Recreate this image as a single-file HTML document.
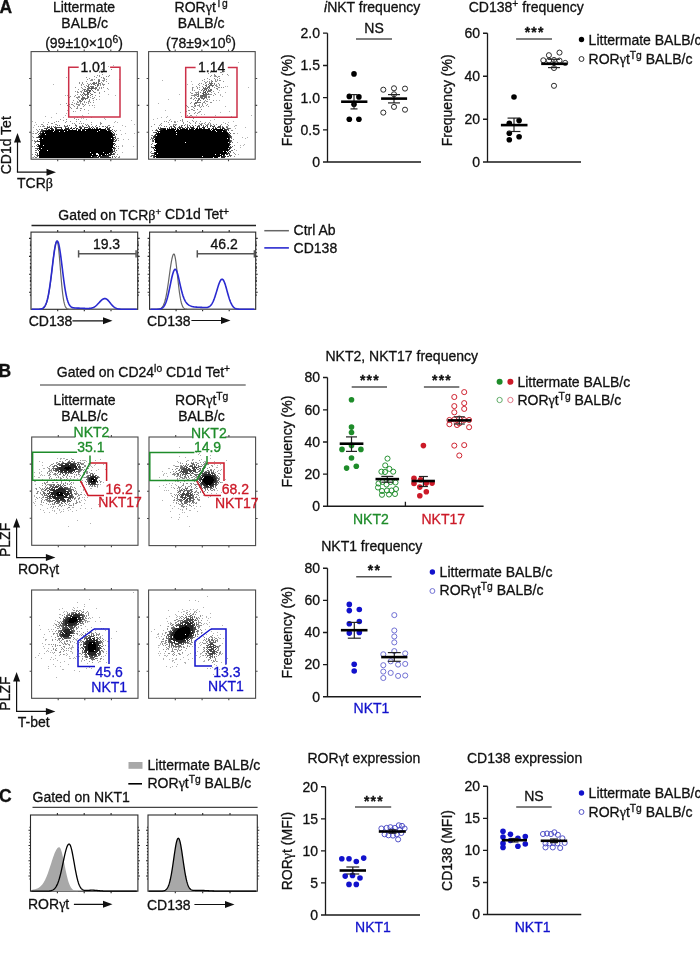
<!DOCTYPE html>
<html><head><meta charset="utf-8"><title>Figure</title>
<style>
html,body{margin:0;padding:0;background:#fff;}
body{width:700px;height:971px;overflow:hidden;}
svg{display:block;font-family:"Liberation Sans",Arial,"DejaVu Sans",sans-serif;font-size:14px;}
text{stroke-width:0.3px;}
.g{font-family:"Liberation Serif",serif;}
</style></head><body>
<svg width="700" height="971" viewBox="0 0 700 971">
<rect width="700" height="971" fill="#fff"/>
<text x="-0.5" y="12.5" fill="#111" stroke="#111" font-size="17.5" font-weight="bold">A</text>
<text x="84" y="12.2" text-anchor="middle" fill="#111" stroke="#111">Littermate</text>
<text x="84.7" y="27.5" text-anchor="middle" fill="#111" stroke="#111">BALB/c</text>
<text x="84" y="48" text-anchor="middle" fill="#111" stroke="#111">(99±10×10<tspan dy="-4.6" font-size="10.3">6</tspan><tspan dy="4.6">)</tspan></text>
<text x="201.2" y="12" text-anchor="middle" fill="#111" stroke="#111">ROR<tspan class="g">γ</tspan>t<tspan dy="-4.6" font-size="10.3">Tg</tspan></text>
<text x="201.2" y="27.5" text-anchor="middle" fill="#111" stroke="#111">BALB/c</text>
<text x="201" y="48" text-anchor="middle" fill="#111" stroke="#111">(78±9×10<tspan dy="-4.6" font-size="10.3">6</tspan><tspan dy="4.6">)</tspan></text>
<g stroke="#000" stroke-width="1" fill="none" transform="translate(0 .5)"><path d="M113 65h1M66 77h1M53 84h1M65 95h1M115 95h1M99 99h1M88 102h1M60 104h1M94 105h1M94 107h1M67 110h1M75 111h1M56 113h1M65 115h1M45 116h1M83 116h1M51 117h1M63 117h1M77 117h1M91 117h1M81 118h1M83 118h1M104 118h1M86 119h1M105 119h1M131 120h1M32 121h1M115 121h1M35 122h1M43 122h1M114 122h1M117 122h1M36 124h1M134 124h1M34 125h1M122 125h1M125 126h1M33 127h1M120 130h1M33 131h1M32 133h1M125 133h1M134 133h1M121 134h1M32 136h1M123 139h1M128 139h1M122 145h1M122 146h1M133 146h1M122 152h1M32 157h1" stroke-opacity="0.3"/><path d="M74 118h1M60 119h1M66 119h1M76 119h1M78 119h1M63 120h1M56 121h1M58 121h1M66 121h1M70 121h1M76 121h1M80 121h1M48 122h1M54 122h1M65 122h1M91 122h1M100 122h1M51 123h2M72 123h1M74 123h1M79 123h1M81 123h1M83 123h1M100 123h2M41 124h2M47 124h1M55 124h2M75 124h1M85 124h1M87 124h1M91 124h1M100 124h1M43 125h1M108 125h2M38 126h1M40 126h1M42 126h3M113 126h1M36 129h1M37 130h1M116 130h1M33 133h1M35 133h2M33 137h1M117 138h2M32 140h1M34 140h1M118 140h1M34 141h1M34 143h1M32 146h1M34 146h1M118 146h1M118 148h1M32 154h1M117 154h1M34 156h1M116 156h1M119 156h1M33 157h1M118 157h2" stroke-opacity="0.44"/><path d="M57 125h1M59 125h1M64 125h1M67 125h1M69 125h1M75 125h2M82 125h1M86 125h1M88 125h1M96 125h1M47 126h1M49 126h1M51 126h1M53 126h1M55 126h1M64 126h4M76 126h1M79 126h2M82 126h2M88 126h2M92 126h1M95 126h1M99 126h1M102 126h2M105 126h1M107 126h1M109 127h2M39 129h1M41 129h2M112 129h1M114 130h1M38 131h1M115 131h1M37 132h1M116 134h1M115 136h1M36 137h1M116 139h1M116 140h1M35 141h2M35 142h1M36 145h1M116 146h1M35 148h2M35 150h2M116 150h1M35 152h2M115 152h1M114 153h1M35 154h1M114 154h1M36 155h1M114 156h1M35 157h2M115 157h1" stroke-opacity="0.58"/><path d="M47 127h3M51 127h1M54 127h8M65 127h1M68 127h1M71 127h1M75 127h1M79 127h3M84 127h4M89 127h1M91 127h1M93 127h1M96 127h2M106 127h2M44 128h4M107 128h3M41 130h2M111 130h1M40 131h2M112 131h1M40 132h1M113 132h1M39 133h1M114 133h1M38 134h1M114 134h1M114 135h1M38 136h1M37 137h2M114 137h2M115 138h1M114 139h1M37 140h1M115 140h1M37 141h1M114 141h2M37 144h1M115 144h1M37 146h1M114 147h1M37 148h1M114 148h2M37 149h1M114 149h1M114 150h1M113 151h2M37 153h1M113 153h1M37 154h1M112 154h2M37 155h1M37 156h1M112 156h1M112 157h1" stroke-opacity="0.72"/><path d="M50 128h3M55 128h2M61 128h1M65 128h4M70 128h2M73 128h2M76 128h2M80 128h2M84 128h1M88 128h3M92 128h1M94 128h1M96 128h2M99 128h2M105 128h1M46 129h1M48 129h2M51 129h3M55 129h8M64 129h6M72 129h1M76 129h1M78 129h3M82 129h3M105 129h1M107 129h3M43 130h4M108 130h3M42 131h3M110 131h1M42 132h1M111 132h1M40 133h2M112 133h1M40 134h2M112 134h2M39 135h2M112 135h2M39 136h1M39 137h1M113 137h1M113 138h1M39 139h1M113 139h1M113 140h1M38 141h2M113 141h1M113 143h2M38 144h1M113 144h1M38 145h1M114 145h1M38 146h1M113 147h1M38 148h1M113 148h1M112 149h1M38 150h1M112 150h1M111 151h2M110 152h3M110 153h2M108 154h4M38 155h1M106 155h5M94 156h3M98 156h11M93 157h6M100 157h11" stroke-opacity="0.86"/><path d="M85 129h20M47 130h7M55 130h12M68 130h9M78 130h3M82 130h3M86 130h13M100 130h7M45 131h8M54 131h5M60 131h4M65 131h32M98 131h12M43 132h1M45 132h66M42 133h70M42 134h3M46 134h66M41 135h71M40 136h73M40 137h73M40 138h2M43 138h68M112 138h1M40 139h73M40 140h73M40 141h73M40 142h73M40 143h73M40 144h73M39 145h4M44 145h69M39 146h74M39 147h74M39 148h2M42 148h70M39 149h73M40 150h7M48 150h64M39 151h72M39 152h51M91 152h12M104 152h6M39 153h57M98 153h11M39 154h53M93 154h3M99 154h6M106 154h1M39 155h59M99 155h2M102 155h4M39 156h52M92 156h2M39 157h54" stroke-opacity="1.0"/></g>
<g stroke="#000" stroke-width="1" fill="none" transform="translate(0 .5)"><path d="M99 65h1M99 66h1M108 66h1M116 67h1M119 79h1M108 89h1M108 94h1M67 95h1M88 110h1M66 113h1M88 113h1M82 115h1" stroke-opacity="0.3"/><path d="M102 69h1M111 69h1M99 71h1M105 71h1M99 72h1M101 72h2M102 74h1M97 75h1M99 75h1M109 75h1M94 76h1M99 76h1M106 76h1M108 76h1M86 77h1M96 77h1M101 77h1M103 77h1M89 78h1M103 78h2M87 79h1M91 79h2M94 79h1M98 79h2M104 79h1M106 79h1M90 80h3M102 80h3M86 81h1M103 81h1M106 81h1M79 82h1M82 82h1M101 82h1M79 83h1M82 83h1M87 83h1M90 83h1M100 83h1M102 83h1M108 83h1M81 84h1M83 84h1M88 84h2M100 84h1M102 84h3M81 85h1M86 85h1M100 85h1M103 85h1M84 86h1M75 87h1M81 87h1M85 87h1M99 87h1M101 87h1M103 87h1M82 88h1M99 88h1M101 88h1M107 88h1M78 89h1M83 89h1M97 89h2M82 90h1M97 90h2M75 91h1M77 91h1M80 91h2M104 91h1M77 92h2M81 92h1M95 92h1M99 92h1M99 93h1M77 94h1M80 94h1M75 95h1M95 95h1M70 96h1M74 96h1M78 96h2M92 96h1M99 96h1M69 97h1M76 97h4M90 97h1M94 97h1M77 98h1M92 98h2M78 99h1M89 99h1M96 99h1M73 100h1M89 100h1M93 100h1M68 101h1M77 101h1M79 101h1M84 101h1M88 101h2M72 102h1M77 102h2M80 102h1M84 102h1M86 102h1M90 102h1M93 102h1M66 103h1M74 103h1M76 103h1M80 103h1M82 103h1M88 103h1M69 104h1M71 104h2M76 104h4M82 104h2M85 104h1M67 105h1M73 105h1M78 105h2M84 105h1M89 105h1M92 105h1M69 106h1M74 106h1M77 106h1M83 106h1M70 107h1M77 107h1M71 108h1M76 108h2M80 108h2M84 109h1M80 110h1M73 111h1" stroke-opacity="0.44"/><path d="M98 80h2M98 81h2M93 82h2M96 82h1M98 82h1M92 83h5M98 83h2M91 84h1M93 84h2M97 84h2M88 85h1M95 85h1M97 85h2M87 86h2M90 86h4M97 86h1M88 87h2M91 87h3M95 87h2M87 88h4M93 88h4M84 89h2M87 89h2M95 89h1M84 90h1M86 90h3M92 90h1M84 91h4M90 91h1M93 91h1M83 92h1M89 92h1M94 92h1M83 93h2M88 93h1M90 93h1M82 94h1M84 94h5M91 94h2M81 95h1M83 95h1M85 95h1M87 95h1M90 95h1M82 96h1M87 96h2M82 97h3M87 97h2M81 98h7M81 99h3M85 99h1M79 100h2M82 100h1M80 101h2" stroke-opacity="0.58"/><path d="M91 88h2M91 89h1M89 90h2M89 91h1M87 92h2M87 93h1" stroke-opacity="0.72"/></g>
<g stroke="#000" stroke-width="1" fill="none" transform="translate(0 .5)"><path d="M214 70h1M162 80h1M191 81h1M193 87h1M248 87h1M219 90h1M225 92h1M220 94h1M168 99h1M219 100h1M158 103h1M194 105h1M225 106h1M165 110h1M199 111h1M229 111h1M180 112h1M199 112h1M220 112h1M204 114h1M196 115h1M215 115h1M251 115h1M167 116h1M181 116h1M185 116h1M192 116h1M231 116h1M161 117h1M166 117h1M187 117h1M157 118h1M153 119h1M170 119h1M214 119h1M210 120h1M233 121h1M223 122h1M228 122h1M235 125h2M234 126h1M245 127h1M235 128h1M237 133h1M242 137h1M247 137h1M245 138h1M237 142h1M244 144h1M240 145h1M243 145h1M240 147h1M236 150h1M238 154h1" stroke-opacity="0.3"/><path d="M193 118h1M182 119h1M169 120h1M180 120h1M182 120h1M192 120h1M164 121h1M166 121h1M171 121h1M174 121h1M182 121h1M187 121h1M193 121h1M196 121h1M200 121h1M168 122h1M174 122h2M183 122h1M189 122h1M195 122h1M205 122h1M209 122h1M161 123h1M183 123h1M190 123h1M195 123h1M199 123h1M201 123h2M204 123h1M208 123h1M210 123h1M225 123h1M154 124h1M160 124h1M169 124h1M173 124h4M185 124h1M187 124h1M205 124h1M207 124h2M210 124h1M213 124h1M216 124h1M221 124h1M227 124h1M159 125h1M161 125h1M228 125h1M151 126h1M226 126h2M230 128h1M152 130h1M231 130h2M233 133h2M151 135h1M150 139h1M233 139h1M234 145h1M234 149h1M150 152h1M233 152h1M234 153h1M235 154h1M150 156h1M234 156h1" stroke-opacity="0.44"/><path d="M200 124h2M173 125h1M175 125h1M181 125h2M184 125h1M187 125h1M189 125h1M192 125h1M195 125h1M198 125h2M201 125h1M203 125h1M206 125h2M210 125h2M214 125h1M220 125h1M164 126h1M166 126h1M170 126h2M222 126h1M158 127h1M160 127h1M226 127h2M227 128h3M156 129h1M228 129h1M155 130h1M153 132h2M152 135h1M231 136h1M151 137h1M231 137h1M151 138h2M231 138h1M152 139h1M152 140h1M231 140h1M152 141h1M231 141h1M232 142h1M152 143h1M151 144h1M151 146h1M232 146h1M151 147h1M231 150h2M151 151h1M230 152h1M151 153h1M151 155h1M230 155h2M151 156h1M230 156h1" stroke-opacity="0.58"/><path d="M173 126h2M179 126h1M181 126h1M187 126h1M190 126h1M193 126h1M197 126h3M203 126h1M205 126h1M207 126h1M210 126h1M212 126h3M218 126h3M169 127h1M171 127h1M174 127h2M178 127h5M185 127h1M187 127h2M190 127h1M207 127h1M213 127h1M215 127h1M217 127h4M222 127h2M158 128h1M160 128h1M224 128h1M226 129h2M156 130h2M228 130h1M155 132h1M229 132h1M230 133h1M154 135h1M230 135h1M153 136h1M230 136h1M153 137h1M230 137h1M153 138h1M153 140h1M230 140h1M153 141h1M230 141h1M230 142h1M230 144h1M230 146h1M152 147h2M230 147h2M153 148h1M230 148h1M229 151h2M152 153h2M228 153h2M229 154h1M152 155h2M229 155h1M153 156h1M227 156h2M153 157h1" stroke-opacity="0.72"/><path d="M191 127h3M197 127h1M199 127h1M202 127h3M161 128h5M167 128h1M169 128h1M171 128h3M175 128h1M177 128h1M179 128h2M182 128h3M186 128h2M189 128h1M191 128h4M200 128h2M203 128h2M208 128h2M212 128h2M215 128h2M220 128h1M222 128h2M159 129h4M224 129h2M160 130h1M225 130h2M157 131h2M226 131h1M156 132h1M227 132h1M156 133h1M228 133h1M155 134h2M228 134h2M155 135h1M228 135h2M154 136h2M229 136h1M154 137h2M229 137h1M229 138h1M154 139h1M229 139h1M229 140h1M229 141h1M229 142h1M229 143h1M229 144h1M154 145h1M229 145h1M154 147h1M229 147h1M229 148h1M154 149h1M228 149h2M154 150h1M228 150h1M227 151h1M154 152h1M228 152h1M154 153h1M226 153h2M154 154h1M226 154h2M154 155h1M224 155h1M154 156h1M222 156h4M154 157h1M221 157h4" stroke-opacity="0.86"/><path d="M196 128h2M199 128h1M163 129h3M167 129h9M177 129h2M180 129h8M189 129h5M195 129h15M211 129h1M213 129h10M161 130h14M176 130h35M212 130h3M216 130h9M159 131h57M217 131h5M223 131h3M158 132h1M160 132h16M177 132h50M157 133h71M157 134h19M177 134h51M157 135h71M156 136h73M156 137h73M155 138h72M228 138h1M155 139h74M155 140h74M155 141h74M155 142h30M186 142h42M157 143h72M156 144h73M155 145h74M155 146h74M155 147h74M155 148h73M156 149h72M155 150h73M156 151h67M224 151h2M155 152h72M155 153h2M158 153h68M155 154h60M216 154h4M221 154h4M156 155h66M223 155h1M155 156h47M203 156h17M221 156h1M156 157h57M214 157h4" stroke-opacity="1.0"/></g>
<g stroke="#000" stroke-width="1" fill="none" transform="translate(0 .5)"><path d="M238 62h1M213 66h1M228 75h1M187 84h1M192 84h1M225 86h1M227 86h1M179 94h1M220 95h1M222 96h1M216 100h1M201 114h1M175 121h1M177 121h1" stroke-opacity="0.3"/><path d="M211 70h1M216 70h1M224 71h1M210 72h1M220 72h2M208 73h1M214 74h1M222 74h1M227 74h1M211 75h1M214 75h2M210 76h1M214 76h3M218 76h2M217 77h1M207 78h1M214 78h1M219 78h1M204 79h1M209 79h1M215 79h1M217 79h1M202 80h1M211 80h1M215 80h1M217 80h1M219 80h2M204 81h1M207 81h1M209 81h1M211 81h1M215 81h2M223 81h1M205 82h2M209 82h1M199 83h1M201 83h1M205 83h1M218 83h1M198 84h1M203 84h1M206 84h1M214 84h1M216 84h1M219 84h1M199 85h1M215 85h2M219 85h1M196 86h1M202 86h1M216 86h2M192 87h1M197 87h1M199 87h1M214 87h1M218 87h2M221 87h1M223 87h1M192 88h1M197 88h1M216 88h2M192 89h1M199 89h1M217 89h1M192 90h1M194 90h1M198 91h1M213 91h1M190 92h1M195 92h4M211 92h1M218 92h1M191 93h2M196 93h1M214 93h1M194 94h3M209 94h3M215 94h1M191 95h6M213 95h1M194 96h1M208 96h2M191 97h1M195 97h1M208 97h2M190 98h2M194 98h1M206 98h1M193 99h1M207 99h1M209 99h1M205 100h1M213 100h1M204 101h1M206 101h2M191 102h1M203 102h2M210 102h2M190 103h1M202 103h1M205 103h1M199 104h1M202 104h1M207 104h1M186 105h1M197 105h3M202 105h1M206 105h1M187 106h1M191 106h2M194 106h2M199 106h1M201 106h1M203 106h1M208 106h1M188 107h1M193 107h1M200 107h1M194 108h1M191 109h2M197 109h1M201 109h1M188 110h2M193 110h2M186 111h1M200 111h1M195 112h1M198 112h1M189 113h1M194 113h1M197 113h1M187 115h1M190 115h2M189 116h1M190 117h1" stroke-opacity="0.44"/><path d="M212 81h1M211 82h1M209 83h4M214 83h1M208 84h1M210 84h2M205 85h2M209 85h5M206 86h1M208 86h2M212 86h1M203 87h1M205 87h1M207 87h3M203 88h5M209 88h1M202 89h1M204 89h3M208 89h1M210 89h2M201 90h1M203 90h2M208 90h4M203 91h1M207 91h4M200 92h1M203 92h1M207 92h1M198 93h1M202 93h1M205 93h2M208 93h1M197 94h2M204 94h5M198 95h1M200 95h2M203 95h4M197 96h2M200 96h7M200 97h3M204 97h3M196 98h1M198 98h2M201 98h4M198 99h2M203 99h1M195 100h1M197 100h2M200 100h1M197 101h1M195 102h6M194 103h3M194 104h1M195 105h1" stroke-opacity="0.58"/><path d="M206 90h1M205 91h1M204 92h2M203 93h1M203 94h1M202 95h1" stroke-opacity="0.72"/></g>
<rect x="31.1" y="51.6" width="106.20" height="107.60" fill="none" stroke="#4a4a4a" stroke-width="1.1"/>
<path d="M57.7 51.6v-2.0M57.7 159.2v2.0M84.2 51.6v-2.0M84.2 159.2v2.0M110.8 51.6v-2.0M110.8 159.2v2.0M31.1 78.5h-2.0M137.3 78.5h2.0M31.1 105.4h-2.0M137.3 105.4h2.0M31.1 132.3h-2.0M137.3 132.3h2.0" stroke="#4a4a4a" stroke-width="1.1" fill="none"/>
<rect x="148.6" y="51.6" width="106.60" height="107.60" fill="none" stroke="#4a4a4a" stroke-width="1.1"/>
<path d="M175.2 51.6v-2.0M175.2 159.2v2.0M201.9 51.6v-2.0M201.9 159.2v2.0M228.5 51.6v-2.0M228.5 159.2v2.0M148.6 78.5h-2.0M255.2 78.5h2.0M148.6 105.4h-2.0M255.2 105.4h2.0M148.6 132.3h-2.0M255.2 132.3h2.0" stroke="#4a4a4a" stroke-width="1.1" fill="none"/>
<path d="M78.7 67.3 L68.7 67.3 L68.7 117.1 L120.0 117.1 L120.0 67.3 L110.1 67.3" stroke="#cc3048" stroke-width="1.5" fill="none"/>
<text x="94" y="71.9" text-anchor="middle" fill="#111" stroke="#111">1.01</text>
<path d="M195.6 67.4 L185.7 67.4 L185.7 117.2 L237.0 117.2 L237.0 67.4 L227.8 67.4" stroke="#cc3048" stroke-width="1.5" fill="none"/>
<text x="211.7" y="71.9" text-anchor="middle" fill="#111" stroke="#111">1.14</text>
<line x1="17.5" y1="172.2" x2="17.5" y2="140" stroke="#111" stroke-width="1.2"/>
<path d="M14.0 142.5L17.5 133L21.0 142.5Z" fill="#111"/>
<line x1="16.9" y1="172.2" x2="49" y2="172.2" stroke="#111" stroke-width="1.2"/>
<path d="M46.5 168.7L56 172.2L46.5 175.7Z" fill="#111"/>
<text x="10.9" y="174.3" fill="#111" stroke="#111" transform="rotate(-90 10.9 174.3)">CD1d Tet</text>
<text x="17" y="187.5" fill="#111" stroke="#111">TCR<tspan class="g">β</tspan></text>
<text x="143.7" y="220" text-anchor="middle" fill="#111" stroke="#111">Gated on TCR<tspan class="g">β</tspan><tspan dy="-5.2" font-size="9.6">+</tspan><tspan dy="4.6"> CD1d Tet</tspan><tspan dy="-4.6" font-size="10.3">+</tspan></text>
<line x1="31.5" y1="225.5" x2="256" y2="225.5" stroke="#222" stroke-width="1.3"/>
<rect x="31" y="232.1" width="106.70" height="77.20" fill="none" stroke="#2a2a2a" stroke-width="1.1"/>
<path d="M57.7 232.1v-2.0M57.7 309.3v2.0M84.3 232.1v-2.0M84.3 309.3v2.0M111.0 232.1v-2.0M111.0 309.3v2.0M31 238.4h-2.0M137.7 238.4h2.0M31 256.4h-2.0M137.7 256.4h2.0M31 274.3h-2.0M137.7 274.3h2.0M31 292.2h-2.0M137.7 292.2h2.0M31 295.1h-1.1M137.7 295.1h1.1M31 280.9h-1.1M137.7 280.9h1.1M31 266.8h-1.1M137.7 266.8h1.1M31 252.6h-1.1M137.7 252.6h1.1M31 242.0h-1.1M137.7 242.0h1.1M31 245.6h-1.1M137.7 245.6h1.1M31 249.2h-1.1M137.7 249.2h1.1M31 252.8h-1.1M137.7 252.8h1.1M31 260.0h-1.1M137.7 260.0h1.1M31 263.6h-1.1M137.7 263.6h1.1M31 267.1h-1.1M137.7 267.1h1.1M31 270.7h-1.1M137.7 270.7h1.1M31 277.9h-1.1M137.7 277.9h1.1M31 281.5h-1.1M137.7 281.5h1.1M31 285.0h-1.1M137.7 285.0h1.1M31 288.6h-1.1M137.7 288.6h1.1M31 280.2h-1.1M137.7 280.2h1.1M31 268.2h-1.1M137.7 268.2h1.1M31 256.1h-1.1M137.7 256.1h1.1M31 244.1h-1.1M137.7 244.1h1.1" stroke="#2a2a2a" stroke-width="1.1" fill="none"/>
<rect x="149.6" y="232.1" width="106.10" height="77.20" fill="none" stroke="#2a2a2a" stroke-width="1.1"/>
<path d="M176.1 232.1v-2.0M176.1 309.3v2.0M202.6 232.1v-2.0M202.6 309.3v2.0M229.2 232.1v-2.0M229.2 309.3v2.0M149.6 238.4h-2.0M255.7 238.4h2.0M149.6 256.4h-2.0M255.7 256.4h2.0M149.6 274.3h-2.0M255.7 274.3h2.0M149.6 292.2h-2.0M255.7 292.2h2.0M149.6 295.1h-1.1M255.7 295.1h1.1M149.6 280.9h-1.1M255.7 280.9h1.1M149.6 266.8h-1.1M255.7 266.8h1.1M149.6 252.6h-1.1M255.7 252.6h1.1M149.6 242.0h-1.1M255.7 242.0h1.1M149.6 245.6h-1.1M255.7 245.6h1.1M149.6 249.2h-1.1M255.7 249.2h1.1M149.6 252.8h-1.1M255.7 252.8h1.1M149.6 260.0h-1.1M255.7 260.0h1.1M149.6 263.6h-1.1M255.7 263.6h1.1M149.6 267.1h-1.1M255.7 267.1h1.1M149.6 270.7h-1.1M255.7 270.7h1.1M149.6 277.9h-1.1M255.7 277.9h1.1M149.6 281.5h-1.1M255.7 281.5h1.1M149.6 285.0h-1.1M255.7 285.0h1.1M149.6 288.6h-1.1M255.7 288.6h1.1M149.6 280.2h-1.1M255.7 280.2h1.1M149.6 268.2h-1.1M255.7 268.2h1.1M149.6 256.1h-1.1M255.7 256.1h1.1M149.6 244.1h-1.1M255.7 244.1h1.1" stroke="#2a2a2a" stroke-width="1.1" fill="none"/>
<path d="M31.8 309.30 L32.3 309.30 L32.8 309.30 L33.3 309.30 L33.8 309.30 L34.3 309.30 L34.8 309.30 L35.3 309.30 L35.8 309.30 L36.3 309.29 L36.8 309.29 L37.3 309.28 L37.8 309.28 L38.3 309.27 L38.8 309.25 L39.3 309.22 L39.8 309.19 L40.3 309.14 L40.8 309.07 L41.3 308.98 L41.8 308.85 L42.3 308.67 L42.8 308.44 L43.3 308.14 L43.8 307.75 L44.3 307.24 L44.8 306.60 L45.3 305.80 L45.8 304.82 L46.3 303.61 L46.8 302.17 L47.3 300.45 L47.8 298.43 L48.3 296.10 L48.8 293.45 L49.3 290.46 L49.8 287.16 L50.3 283.55 L50.8 279.69 L51.3 275.60 L51.8 271.37 L52.3 267.07 L52.8 262.79 L53.3 258.63 L53.8 254.69 L54.3 251.08 L54.8 247.90 L55.3 245.25 L55.8 243.20 L56.3 241.82 L56.8 241.16 L57.3 241.38 L57.8 243.07 L58.3 246.19 L58.8 250.53 L59.3 255.81 L59.8 261.72 L60.3 267.93 L60.8 274.16 L61.3 280.12 L61.8 285.62 L62.3 290.52 L62.8 294.75 L63.3 298.28 L63.8 301.14 L64.3 303.40 L64.8 305.13 L65.3 306.42 L65.8 307.35 L66.3 308.01 L66.8 308.47 L67.3 308.78 L67.8 308.98 L68.3 309.11 L68.8 309.19 L69.3 309.23 L69.8 309.26 L70.3 309.28 L70.8 309.29 L71.3 309.29 L71.8 309.30 L72.3 309.30 L72.8 309.30 L73.3 309.30 L73.8 309.30 L74.3 309.30 L74.8 309.30 L75.3 309.30 L75.8 309.30 L76.3 309.30 L76.8 309.30 L77.3 309.30 L77.8 309.30 L78.3 309.30 L78.8 309.30 L79.3 309.30 L79.8 309.30 L80.3 309.30 L80.8 309.30 L81.3 309.30 L81.8 309.30 L82.3 309.30 L82.8 309.30 L83.3 309.30 L83.8 309.30 L84.3 309.30 L84.8 309.30 L85.3 309.30 L85.8 309.30 L86.3 309.30 L86.8 309.30 L87.3 309.30 L87.8 309.30 L88.3 309.30 L88.8 309.30 L89.3 309.30 L89.8 309.30 L90.3 309.30 L90.8 309.30 L91.3 309.30 L91.8 309.30 L92.3 309.30 L92.8 309.30 L93.3 309.30 L93.8 309.30 L94.3 309.30 L94.8 309.30 L95.3 309.30 L95.8 309.30 L96.3 309.30 L96.8 309.30 L97.3 309.30 L97.8 309.30 L98.3 309.30 L98.8 309.30 L99.3 309.30 L99.8 309.30 L100.3 309.30 L100.8 309.30 L101.3 309.30 L101.8 309.30 L102.3 309.30 L102.8 309.30 L103.3 309.30 L103.8 309.30 L104.3 309.30 L104.8 309.30 L105.3 309.30 L105.8 309.30 L106.3 309.30 L106.8 309.30 L107.3 309.30 L107.8 309.30 L108.3 309.30 L108.8 309.30 L109.3 309.30 L109.8 309.30 L110.3 309.30 L110.8 309.30 L111.3 309.30 L111.8 309.30 L112.3 309.30 L112.8 309.30 L113.3 309.30 L113.8 309.30 L114.3 309.30 L114.8 309.30 L115.3 309.30 L115.8 309.30 L116.3 309.30 L116.8 309.30 L117.3 309.30 L117.8 309.30 L118.3 309.30 L118.8 309.30 L119.3 309.30 L119.8 309.30 L120.3 309.30 L120.8 309.30 L121.3 309.30 L121.8 309.30 L122.3 309.30 L122.8 309.30 L123.3 309.30 L123.8 309.30 L124.3 309.30 L124.8 309.30 L125.3 309.30 L125.8 309.30 L126.3 309.30 L126.8 309.30 L127.3 309.30 L127.8 309.30 L128.3 309.30 L128.8 309.30 L129.3 309.30 L129.8 309.30 L130.3 309.30 L130.8 309.30 L131.3 309.30 L131.8 309.30 L132.3 309.30 L132.8 309.30 L133.3 309.30 L133.8 309.30 L134.3 309.30 L134.8 309.30 L135.3 309.30 L135.8 309.30 L136.3 309.30 L136.8 309.30" stroke="#666" stroke-width="1.2" fill="none" stroke-linejoin="round"/>
<path d="M31.8 309.30 L32.3 309.30 L32.8 309.30 L33.3 309.30 L33.8 309.30 L34.3 309.30 L34.8 309.30 L35.3 309.30 L35.8 309.29 L36.3 309.29 L36.8 309.28 L37.3 309.28 L37.8 309.26 L38.3 309.25 L38.8 309.22 L39.3 309.19 L39.8 309.14 L40.3 309.07 L40.8 308.99 L41.3 308.87 L41.8 308.71 L42.3 308.50 L42.8 308.22 L43.3 307.87 L43.8 307.42 L44.3 306.85 L44.8 306.15 L45.3 305.28 L45.8 304.23 L46.3 302.96 L46.8 301.46 L47.3 299.69 L47.8 297.65 L48.3 295.31 L48.8 292.66 L49.3 289.72 L49.8 286.48 L50.3 282.97 L50.8 279.23 L51.3 275.29 L51.8 271.22 L52.3 267.09 L52.8 262.97 L53.3 258.96 L53.8 255.14 L54.3 251.62 L54.8 248.47 L55.3 245.79 L55.8 243.65 L56.3 242.12 L56.8 241.23 L57.3 241.01 L57.8 241.47 L58.3 242.59 L58.8 244.35 L59.3 246.68 L59.8 249.53 L60.3 252.80 L60.8 256.42 L61.3 260.30 L61.8 264.32 L62.3 268.42 L62.8 272.50 L63.3 276.49 L63.8 280.31 L64.3 283.92 L64.8 287.29 L65.3 290.36 L65.8 293.14 L66.3 295.62 L66.8 297.79 L67.3 299.68 L67.8 301.29 L68.3 302.65 L68.8 303.79 L69.3 304.72 L69.8 305.48 L70.3 306.09 L70.8 306.57 L71.3 306.94 L71.8 307.23 L72.3 307.45 L72.8 307.62 L73.3 307.74 L73.8 307.84 L74.3 307.91 L74.8 307.96 L75.3 308.00 L75.8 308.04 L76.3 308.06 L76.8 308.08 L77.3 308.10 L77.8 308.12 L78.3 308.13 L78.8 308.15 L79.3 308.17 L79.8 308.19 L80.3 308.21 L80.8 308.23 L81.3 308.25 L81.8 308.27 L82.3 308.30 L82.8 308.32 L83.3 308.34 L83.8 308.37 L84.3 308.39 L84.8 308.41 L85.3 308.43 L85.8 308.45 L86.3 308.47 L86.8 308.48 L87.3 308.48 L87.8 308.48 L88.3 308.47 L88.8 308.45 L89.3 308.42 L89.8 308.38 L90.3 308.32 L90.8 308.24 L91.3 308.14 L91.8 308.01 L92.3 307.86 L92.8 307.69 L93.3 307.48 L93.8 307.23 L94.3 306.96 L94.8 306.64 L95.3 306.29 L95.8 305.91 L96.3 305.49 L96.8 305.03 L97.3 304.55 L97.8 304.04 L98.3 303.52 L98.8 302.98 L99.3 302.43 L99.8 301.89 L100.3 301.36 L100.8 300.85 L101.3 300.37 L101.8 299.93 L102.3 299.53 L102.8 299.20 L103.3 298.93 L103.8 298.72 L104.3 298.60 L104.8 298.55 L105.3 298.58 L105.8 298.71 L106.3 298.94 L106.8 299.26 L107.3 299.65 L107.8 300.11 L108.3 300.63 L108.8 301.20 L109.3 301.80 L109.8 302.42 L110.3 303.04 L110.8 303.66 L111.3 304.27 L111.8 304.85 L112.3 305.40 L112.8 305.92 L113.3 306.39 L113.8 306.82 L114.3 307.21 L114.8 307.55 L115.3 307.85 L115.8 308.11 L116.3 308.33 L116.8 308.52 L117.3 308.67 L117.8 308.80 L118.3 308.91 L118.8 309.00 L119.3 309.07 L119.8 309.12 L120.3 309.17 L120.8 309.20 L121.3 309.23 L121.8 309.24 L122.3 309.26 L122.8 309.27 L123.3 309.28 L123.8 309.29 L124.3 309.29 L124.8 309.29 L125.3 309.29 L125.8 309.30 L126.3 309.30 L126.8 309.30 L127.3 309.30 L127.8 309.30 L128.3 309.30 L128.8 309.30 L129.3 309.30 L129.8 309.30 L130.3 309.30 L130.8 309.30 L131.3 309.30 L131.8 309.30 L132.3 309.30 L132.8 309.30 L133.3 309.30 L133.8 309.30 L134.3 309.30 L134.8 309.30 L135.3 309.30 L135.8 309.30 L136.3 309.30 L136.8 309.30" stroke="#2a2ad0" stroke-width="1.6" fill="none" stroke-linejoin="round"/>
<path d="M150.4 309.30 L150.9 309.30 L151.4 309.30 L151.9 309.30 L152.4 309.30 L152.9 309.30 L153.4 309.30 L153.9 309.30 L154.4 309.29 L154.9 309.29 L155.4 309.28 L155.9 309.27 L156.4 309.26 L156.9 309.24 L157.4 309.21 L157.9 309.17 L158.4 309.11 L158.9 309.03 L159.4 308.92 L159.9 308.76 L160.4 308.55 L160.9 308.28 L161.4 307.92 L161.9 307.46 L162.4 306.87 L162.9 306.13 L163.4 305.21 L163.9 304.09 L164.4 302.75 L164.9 301.14 L165.4 299.27 L165.9 297.11 L166.4 294.66 L166.9 291.93 L167.4 288.92 L167.9 285.68 L168.4 282.24 L168.9 278.67 L169.4 275.03 L169.9 271.41 L170.4 267.90 L170.9 264.59 L171.4 261.59 L171.9 258.99 L172.4 256.86 L172.9 255.29 L173.4 254.33 L173.9 254.00 L174.4 254.53 L174.9 256.09 L175.4 258.60 L175.9 261.91 L176.4 265.85 L176.9 270.22 L177.4 274.83 L177.9 279.47 L178.4 283.98 L178.9 288.22 L179.4 292.09 L179.9 295.51 L180.4 298.47 L180.9 300.95 L181.4 302.99 L181.9 304.62 L182.4 305.89 L182.9 306.87 L183.4 307.60 L183.9 308.13 L184.4 308.51 L184.9 308.78 L185.4 308.96 L185.9 309.09 L186.4 309.17 L186.9 309.22 L187.4 309.25 L187.9 309.27 L188.4 309.28 L188.9 309.29 L189.4 309.29 L189.9 309.30 L190.4 309.30 L190.9 309.30 L191.4 309.30 L191.9 309.30 L192.4 309.30 L192.9 309.30 L193.4 309.30 L193.9 309.30 L194.4 309.30 L194.9 309.30 L195.4 309.30 L195.9 309.30 L196.4 309.30 L196.9 309.30 L197.4 309.30 L197.9 309.30 L198.4 309.30 L198.9 309.30 L199.4 309.30 L199.9 309.30 L200.4 309.30 L200.9 309.30 L201.4 309.30 L201.9 309.30 L202.4 309.30 L202.9 309.30 L203.4 309.30 L203.9 309.30 L204.4 309.30 L204.9 309.30 L205.4 309.30 L205.9 309.30 L206.4 309.30 L206.9 309.30 L207.4 309.30 L207.9 309.30 L208.4 309.30 L208.9 309.30 L209.4 309.30 L209.9 309.30 L210.4 309.30 L210.9 309.30 L211.4 309.30 L211.9 309.30 L212.4 309.30 L212.9 309.30 L213.4 309.30 L213.9 309.30 L214.4 309.30 L214.9 309.30 L215.4 309.30 L215.9 309.30 L216.4 309.30 L216.9 309.30 L217.4 309.30 L217.9 309.30 L218.4 309.30 L218.9 309.30 L219.4 309.30 L219.9 309.30 L220.4 309.30 L220.9 309.30 L221.4 309.30 L221.9 309.30 L222.4 309.30 L222.9 309.30 L223.4 309.30 L223.9 309.30 L224.4 309.30 L224.9 309.30 L225.4 309.30 L225.9 309.30 L226.4 309.30 L226.9 309.30 L227.4 309.30 L227.9 309.30 L228.4 309.30 L228.9 309.30 L229.4 309.30 L229.9 309.30 L230.4 309.30 L230.9 309.30 L231.4 309.30 L231.9 309.30 L232.4 309.30 L232.9 309.30 L233.4 309.30 L233.9 309.30 L234.4 309.30 L234.9 309.30 L235.4 309.30 L235.9 309.30 L236.4 309.30 L236.9 309.30 L237.4 309.30 L237.9 309.30 L238.4 309.30 L238.9 309.30 L239.4 309.30 L239.9 309.30 L240.4 309.30 L240.9 309.30 L241.4 309.30 L241.9 309.30 L242.4 309.30 L242.9 309.30 L243.4 309.30 L243.9 309.30 L244.4 309.30 L244.9 309.30 L245.4 309.30 L245.9 309.30 L246.4 309.30 L246.9 309.30 L247.4 309.30 L247.9 309.30 L248.4 309.30 L248.9 309.30 L249.4 309.30 L249.9 309.30 L250.4 309.30 L250.9 309.30 L251.4 309.30 L251.9 309.30 L252.4 309.30 L252.9 309.30 L253.4 309.30 L253.9 309.30 L254.4 309.30" stroke="#666" stroke-width="1.2" fill="none" stroke-linejoin="round"/>
<path d="M150.4 309.30 L150.9 309.30 L151.4 309.30 L151.9 309.30 L152.4 309.30 L152.9 309.30 L153.4 309.30 L153.9 309.30 L154.4 309.29 L154.9 309.29 L155.4 309.29 L155.9 309.28 L156.4 309.27 L156.9 309.26 L157.4 309.24 L157.9 309.22 L158.4 309.18 L158.9 309.13 L159.4 309.07 L159.9 308.98 L160.4 308.86 L160.9 308.71 L161.4 308.50 L161.9 308.25 L162.4 307.92 L162.9 307.52 L163.4 307.01 L163.9 306.40 L164.4 305.65 L164.9 304.77 L165.4 303.72 L165.9 302.51 L166.4 301.12 L166.9 299.55 L167.4 297.79 L167.9 295.86 L168.4 293.76 L168.9 291.53 L169.4 289.18 L169.9 286.76 L170.4 284.31 L170.9 281.87 L171.4 279.51 L171.9 277.28 L172.4 275.23 L172.9 273.42 L173.4 271.89 L173.9 270.69 L174.4 269.85 L174.9 269.39 L175.4 269.33 L175.9 269.70 L176.4 270.49 L176.9 271.67 L177.4 273.18 L177.9 274.96 L178.4 276.97 L178.9 279.12 L179.4 281.36 L179.9 283.63 L180.4 285.87 L180.9 288.03 L181.4 290.09 L181.9 292.02 L182.4 293.80 L182.9 295.43 L183.4 296.90 L183.9 298.22 L184.4 299.40 L184.9 300.43 L185.4 301.33 L185.9 302.11 L186.4 302.78 L186.9 303.37 L187.4 303.88 L187.9 304.33 L188.4 304.72 L188.9 305.06 L189.4 305.37 L189.9 305.64 L190.4 305.88 L190.9 306.09 L191.4 306.28 L191.9 306.44 L192.4 306.58 L192.9 306.70 L193.4 306.80 L193.9 306.89 L194.4 306.96 L194.9 307.02 L195.4 307.07 L195.9 307.11 L196.4 307.14 L196.9 307.17 L197.4 307.19 L197.9 307.22 L198.4 307.24 L198.9 307.26 L199.4 307.28 L199.9 307.31 L200.4 307.33 L200.9 307.36 L201.4 307.39 L201.9 307.42 L202.4 307.45 L202.9 307.48 L203.4 307.51 L203.9 307.54 L204.4 307.56 L204.9 307.57 L205.4 307.57 L205.9 307.56 L206.4 307.52 L206.9 307.46 L207.4 307.37 L207.9 307.25 L208.4 307.07 L208.9 306.85 L209.4 306.56 L209.9 306.19 L210.4 305.75 L210.9 305.21 L211.4 304.58 L211.9 303.83 L212.4 302.97 L212.9 301.99 L213.4 300.89 L213.9 299.67 L214.4 298.34 L214.9 296.90 L215.4 295.37 L215.9 293.76 L216.4 292.11 L216.9 290.43 L217.4 288.75 L217.9 287.11 L218.4 285.54 L218.9 284.07 L219.4 282.75 L219.9 281.59 L220.4 280.64 L220.9 279.91 L221.4 279.43 L221.9 279.21 L222.4 279.25 L222.9 279.59 L223.4 280.22 L223.9 281.11 L224.4 282.25 L224.9 283.60 L225.4 285.12 L225.9 286.78 L226.4 288.54 L226.9 290.35 L227.4 292.17 L227.9 293.97 L228.4 295.72 L228.9 297.38 L229.4 298.95 L229.9 300.40 L230.4 301.73 L230.9 302.92 L231.4 303.97 L231.9 304.90 L232.4 305.70 L232.9 306.38 L233.4 306.96 L233.9 307.44 L234.4 307.84 L234.9 308.17 L235.4 308.43 L235.9 308.63 L236.4 308.80 L236.9 308.92 L237.4 309.02 L237.9 309.10 L238.4 309.15 L238.9 309.19 L239.4 309.22 L239.9 309.25 L240.4 309.26 L240.9 309.27 L241.4 309.28 L241.9 309.29 L242.4 309.29 L242.9 309.29 L243.4 309.30 L243.9 309.30 L244.4 309.30 L244.9 309.30 L245.4 309.30 L245.9 309.30 L246.4 309.30 L246.9 309.30 L247.4 309.30 L247.9 309.30 L248.4 309.30 L248.9 309.30 L249.4 309.30 L249.9 309.30 L250.4 309.30 L250.9 309.30 L251.4 309.30 L251.9 309.30 L252.4 309.30 L252.9 309.30 L253.4 309.30 L253.9 309.30 L254.4 309.30" stroke="#2a2ad0" stroke-width="1.6" fill="none" stroke-linejoin="round"/>
<path d="M78.6 253.8H136.1M78.6 250.20000000000002v7.4M136.1 250.20000000000002v7.4" stroke="#555" stroke-width="1.5" fill="none"/>
<text x="106.5" y="249.4" text-anchor="middle" fill="#111" stroke="#111">19.3</text>
<path d="M197.3 253.8H254.4M197.3 250.20000000000002v7.4M254.4 250.20000000000002v7.4" stroke="#555" stroke-width="1.5" fill="none"/>
<text x="224.2" y="249.4" text-anchor="middle" fill="#111" stroke="#111">46.2</text>
<line x1="264.3" y1="230.7" x2="288.9" y2="230.7" stroke="#666" stroke-width="1.5"/>
<line x1="264.3" y1="247.9" x2="288.9" y2="247.9" stroke="#2a2ad0" stroke-width="1.6"/>
<text x="293.6" y="235.4" fill="#111" stroke="#111">Ctrl Ab</text>
<text x="293.6" y="252.6" fill="#111" stroke="#111">CD138</text>
<text x="28.7" y="326" fill="#111" stroke="#111">CD138</text>
<line x1="72.4" y1="320.8" x2="105.5" y2="320.8" stroke="#111" stroke-width="1.2"/>
<path d="M103.0 317.3L112.5 320.8L103.0 324.3Z" fill="#111"/>
<text x="147" y="326" fill="#111" stroke="#111">CD138</text>
<line x1="191.4" y1="320.5" x2="223.5" y2="320.5" stroke="#111" stroke-width="1.2"/>
<path d="M221.0 317.0L230.5 320.5L221.0 324.0Z" fill="#111"/>
<text x="324" y="11.5" fill="#111" stroke="#111"><tspan font-style="italic">i</tspan>NKT frequency</text>
<text x="320.0" y="38.0" text-anchor="end" fill="#111" stroke="#111">2.0</text>
<text x="320.0" y="70.3" text-anchor="end" fill="#111" stroke="#111">1.5</text>
<text x="320.0" y="102.5" text-anchor="end" fill="#111" stroke="#111">1.0</text>
<text x="320.0" y="134.6" text-anchor="end" fill="#111" stroke="#111">0.5</text>
<text x="320.0" y="166.8" text-anchor="end" fill="#111" stroke="#111">0</text>
<path d="M327.5 33.2V162H421M327.5 33.2h-4.5M327.5 65.5h-4.5M327.5 97.7h-4.5M327.5 129.8h-4.5M327.5 162h-4.5" stroke="#1a1a1a" stroke-width="1.3" fill="none"/>
<text x="292.3" y="100.3" text-anchor="middle" fill="#111" stroke="#111" transform="rotate(-90 292.3 100.3)">Frequency (%)</text>
<line x1="356" y1="39" x2="392" y2="39" stroke="#555" stroke-width="1.5"/>
<text x="374" y="32.6" text-anchor="middle" fill="#111" stroke="#111">NS</text>
<g fill="#000"><circle cx="354" cy="73.9" r="2.8"/><circle cx="349.3" cy="96.4" r="2.8"/><circle cx="358.9" cy="96.9" r="2.8"/><circle cx="354" cy="104.3" r="2.8"/><circle cx="349.3" cy="119.3" r="2.8"/><circle cx="358.9" cy="119.3" r="2.8"/></g>
<line x1="354" y1="94.6" x2="354" y2="108.9" stroke="#222" stroke-width="1.2"/>
<line x1="350.5" y1="94.6" x2="357.5" y2="94.6" stroke="#222" stroke-width="1.2"/>
<line x1="350.5" y1="108.9" x2="357.5" y2="108.9" stroke="#222" stroke-width="1.2"/>
<line x1="341.1" y1="101.7" x2="367.4" y2="101.7" stroke="#000" stroke-width="2.6"/>
<g fill="none" stroke="#222" stroke-width="0.95"><circle cx="383.3" cy="89.7" r="2.55"/><circle cx="394" cy="88.3" r="2.55"/><circle cx="405" cy="88.6" r="2.55"/><circle cx="394" cy="94.3" r="2.55"/><circle cx="394" cy="106.9" r="2.55"/><circle cx="405" cy="109.7" r="2.55"/><circle cx="383.3" cy="112.6" r="2.55"/></g>
<line x1="394" y1="94.6" x2="394" y2="102.9" stroke="#222" stroke-width="1.2"/>
<line x1="388.0" y1="94.6" x2="400.0" y2="94.6" stroke="#222" stroke-width="1.2"/>
<line x1="388.0" y1="102.9" x2="400.0" y2="102.9" stroke="#222" stroke-width="1.2"/>
<line x1="381.1" y1="98.6" x2="407.1" y2="98.6" stroke="#000" stroke-width="2.6"/>
<text x="468.7" y="11.5" fill="#111" stroke="#111">CD138<tspan dy="-4.6" font-size="10.3">+</tspan><tspan dy="4.6"> frequency</tspan></text>
<text x="480.0" y="38.0" text-anchor="end" fill="#111" stroke="#111">60</text>
<text x="480.0" y="81.0" text-anchor="end" fill="#111" stroke="#111">40</text>
<text x="480.0" y="124.0" text-anchor="end" fill="#111" stroke="#111">20</text>
<text x="480.0" y="166.8" text-anchor="end" fill="#111" stroke="#111">0</text>
<path d="M487.5 33.25V162H581M487.5 33.25h-4.5M487.5 76.25h-4.5M487.5 119.25h-4.5M487.5 162h-4.5" stroke="#1a1a1a" stroke-width="1.3" fill="none"/>
<text x="451.8" y="100.3" text-anchor="middle" fill="#111" stroke="#111" transform="rotate(-90 451.8 100.3)">Frequency (%)</text>
<line x1="516.1" y1="39" x2="552" y2="39" stroke="#555" stroke-width="1.5"/>
<text x="534.7" y="37" text-anchor="middle" font-weight="bold" font-size="14" letter-spacing="1.2" fill="#111" stroke="#111">***</text>
<g fill="#000"><circle cx="514" cy="97" r="2.8"/><circle cx="509.3" cy="123.3" r="2.8"/><circle cx="519.1" cy="120.6" r="2.8"/><circle cx="509.3" cy="133.2" r="2.8"/><circle cx="519.1" cy="136.7" r="2.8"/><circle cx="509.3" cy="139.7" r="2.8"/></g>
<line x1="514" y1="118.1" x2="514" y2="131.5" stroke="#222" stroke-width="1.2"/>
<line x1="507.55" y1="118.1" x2="520.45" y2="118.1" stroke="#222" stroke-width="1.2"/>
<line x1="507.55" y1="131.5" x2="520.45" y2="131.5" stroke="#222" stroke-width="1.2"/>
<line x1="500.9" y1="125.1" x2="527.5" y2="125.1" stroke="#000" stroke-width="2.6"/>
<g fill="none" stroke="#222" stroke-width="0.95"><circle cx="548.9" cy="55.2" r="2.55"/><circle cx="559.5" cy="52.6" r="2.55"/><circle cx="543.3" cy="60.3" r="2.55"/><circle cx="549" cy="60.6" r="2.55"/><circle cx="554" cy="60" r="2.55"/><circle cx="559.5" cy="60.6" r="2.55"/><circle cx="565.2" cy="62.9" r="2.55"/><circle cx="554" cy="68" r="2.55"/><circle cx="554" cy="85.8" r="2.55"/></g>
<line x1="554" y1="59.3" x2="554" y2="67.6" stroke="#222" stroke-width="1.2"/>
<line x1="548.0" y1="59.3" x2="560.0" y2="59.3" stroke="#222" stroke-width="1.2"/>
<line x1="548.0" y1="67.6" x2="560.0" y2="67.6" stroke="#222" stroke-width="1.2"/>
<line x1="541.2" y1="63.8" x2="567.4" y2="63.8" stroke="#000" stroke-width="2.6"/>
<g fill="#000"><circle cx="581.5" cy="39.5" r="2.7"/></g>
<text x="588.6" y="45" fill="#111" stroke="#111">Littermate BALB/c</text>
<g fill="none" stroke="#222" stroke-width="0.95"><circle cx="581.5" cy="59" r="2.45"/></g>
<text x="588.6" y="63.6" fill="#111" stroke="#111">ROR<tspan class="g">γ</tspan>t<tspan dy="-4.6" font-size="10.3">Tg</tspan><tspan dy="4.6"> BALB/c</tspan></text>
<text x="-1.5" y="377" fill="#111" stroke="#111" font-size="17.5" font-weight="bold">B</text>
<text x="56.8" y="377" fill="#111" stroke="#111">Gated on CD24<tspan dy="-4.6" font-size="10.3">lo</tspan><tspan dy="4.6"> CD1d Tet</tspan><tspan dy="-4.6" font-size="10.3">+</tspan></text>
<line x1="40" y1="385" x2="245.7" y2="385" stroke="#777" stroke-width="1.6"/>
<text x="84.5" y="404.5" text-anchor="middle" fill="#111" stroke="#111">Littermate</text>
<text x="84.5" y="420.5" text-anchor="middle" fill="#111" stroke="#111">BALB/c</text>
<text x="201.7" y="405" text-anchor="middle" fill="#111" stroke="#111">ROR<tspan class="g">γ</tspan>t<tspan dy="-4.6" font-size="10.3">Tg</tspan></text>
<text x="201.5" y="421" text-anchor="middle" fill="#111" stroke="#111">BALB/c</text>
<g stroke="#000" stroke-width="1" fill="none" transform="translate(0 .5)"><path d="M57 458h1M60 458h2M63 458h2M71 458h1M60 459h1M100 459h1M82 460h4M95 460h1M39 461h1M86 461h1M42 462h1M88 463h1M89 464h2M95 464h1M103 464h1M42 465h1M90 465h1M94 465h1M89 466h1M91 466h1M92 467h1M43 468h2M39 469h1M98 469h1M105 469h1M96 470h1M41 471h1M34 472h1M39 472h1M39 473h1M41 474h1M40 475h1M42 475h1M44 475h1M34 476h1M79 476h1M38 477h2M83 477h1M77 478h1M42 479h1M73 479h1M41 480h1M71 480h2M74 480h1M82 480h1M34 481h2M101 481h1M73 482h1M80 482h1M82 482h1M103 482h1M73 483h1M35 484h1M100 484h1M80 486h1M84 487h1M97 487h1M35 488h1M90 488h2M83 489h1M83 490h1M85 491h1M81 492h1M86 492h1M84 494h1M34 495h1M85 495h1M34 496h1M82 497h1M84 497h1M87 497h1M35 499h1M84 499h1M103 499h1M81 500h1M85 500h1M35 501h1M33 502h1M79 502h2M34 503h1M84 503h1M40 504h2M98 504h1M35 505h1M42 505h1M81 505h1M50 507h1M72 507h2M47 508h1M52 508h1M67 508h1M80 508h1M85 508h1M91 508h1M40 509h1M59 509h1M63 509h1M70 509h1M43 510h1M52 510h1M54 510h1M59 510h1M68 510h1M76 510h1M54 511h1M61 511h1M63 511h1M72 511h1M44 512h1M49 512h1M60 512h1M56 513h1M77 520h1M90 523h1M68 526h1" stroke-opacity="0.3"/><path d="M66 459h2M72 459h2M65 460h1M69 460h1M80 460h1M59 461h2M62 461h1M56 462h2M79 462h2M84 462h1M53 463h1M56 463h1M81 463h3M51 464h2M82 464h2M50 465h1M84 465h2M49 466h1M52 466h1M84 466h2M47 467h1M83 467h1M48 468h2M87 468h2M49 469h1M51 469h1M82 469h1M84 469h1M49 470h3M81 470h1M83 470h1M91 470h1M48 471h2M51 471h1M80 471h1M86 471h2M47 472h1M50 472h1M52 472h1M79 472h1M83 472h1M86 472h2M89 472h1M47 473h1M49 473h1M54 473h1M78 473h1M84 473h1M86 473h2M90 473h1M94 473h1M49 474h2M53 474h4M74 474h1M76 474h1M78 474h2M84 474h1M48 475h2M55 475h1M57 475h1M76 475h1M80 475h1M87 475h1M50 476h1M58 476h1M62 476h1M66 476h1M69 476h1M71 476h1M74 476h1M86 476h1M98 476h1M49 477h1M56 477h1M58 477h1M60 477h1M63 477h1M66 477h1M74 477h1M84 477h3M99 477h1M49 478h1M51 478h1M60 478h2M67 478h1M70 478h1M54 479h1M56 479h1M60 479h1M64 479h1M66 479h1M49 480h1M64 480h1M67 480h1M99 480h1M47 481h1M61 481h1M69 481h1M85 481h1M100 481h1M44 482h1M46 482h2M52 482h2M56 482h2M61 482h1M65 482h1M71 482h1M86 482h1M100 482h1M42 483h1M44 483h2M61 483h1M63 483h1M65 483h1M67 483h1M70 483h1M45 484h1M47 484h6M67 484h1M69 484h1M71 484h1M86 484h1M97 484h2M42 485h1M46 485h1M49 485h1M97 485h1M45 486h1M70 486h2M89 486h1M91 486h2M94 486h2M97 486h1M39 487h1M45 487h1M72 487h1M74 487h1M36 488h1M40 488h1M42 488h1M44 488h1M75 488h1M36 489h1M41 489h3M73 489h1M41 490h1M75 490h1M37 491h2M42 491h2M76 491h1M37 492h1M40 492h1M76 492h1M36 493h2M40 493h1M75 493h3M41 494h2M76 494h1M78 494h1M80 494h2M42 495h1M78 495h2M43 496h1M77 496h1M36 497h1M39 497h1M42 497h2M75 497h1M79 497h1M37 498h1M41 498h1M75 498h1M78 498h2M42 499h1M45 499h1M74 499h1M78 499h1M41 500h1M44 500h1M46 500h2M76 500h1M41 501h1M47 501h2M76 501h1M79 501h1M41 502h1M43 502h1M49 502h1M76 502h2M46 503h1M52 503h1M69 503h1M73 503h1M75 503h2M48 504h1M50 504h1M52 504h3M59 504h2M66 504h1M68 504h1M73 504h1M59 505h2M62 505h1M64 505h1M69 505h3M73 505h1M51 506h1M53 506h1M55 506h1M58 506h1M61 506h1M53 507h1M68 507h2M57 508h1" stroke-opacity="0.44"/><path d="M68 461h2M71 461h2M74 461h1M62 462h2M67 462h1M73 462h2M77 462h2M58 463h2M61 463h1M76 463h1M78 463h1M80 463h1M57 464h3M78 464h2M81 464h1M54 465h3M79 465h1M53 466h2M56 466h1M80 466h1M53 467h1M80 467h1M82 467h1M52 468h3M80 468h1M53 469h1M79 469h3M53 470h3M78 470h3M55 471h2M77 471h3M75 472h1M78 472h1M55 473h1M57 473h1M60 473h1M70 473h3M91 473h2M59 474h2M63 474h1M65 474h1M67 474h1M90 474h1M92 474h2M63 475h2M67 475h1M88 475h2M96 475h1M87 476h2M97 476h1M87 477h1M98 477h1M87 478h1M86 479h2M87 480h1M87 481h1M88 483h1M53 484h2M57 484h2M60 484h1M63 484h1M88 484h2M96 484h1M50 485h2M53 485h2M56 485h1M58 485h3M62 485h1M64 485h2M90 485h1M92 485h1M94 485h1M50 486h4M63 486h1M47 487h1M49 487h2M66 487h2M70 487h1M46 488h4M68 488h3M45 489h2M69 489h4M44 490h2M47 490h1M71 490h1M73 490h1M47 491h1M71 491h1M74 491h1M43 492h2M43 493h3M74 493h1M44 494h1M46 494h1M72 494h1M75 494h1M44 495h4M72 495h1M47 496h1M72 496h2M45 497h3M72 497h2M47 498h3M72 498h1M74 498h1M46 499h2M49 499h1M70 499h1M48 500h3M52 500h1M68 500h2M71 500h1M49 501h4M55 501h1M67 501h4M54 502h2M57 502h3M61 502h1M64 502h1M67 502h1M54 503h1M56 503h3M61 503h2M65 503h1" stroke-opacity="0.58"/><path d="M68 462h3M62 463h14M60 464h3M74 464h2M77 464h1M59 465h2M77 465h1M57 466h1M78 466h2M57 467h2M78 467h2M55 468h4M77 468h1M79 468h1M55 469h4M76 469h3M56 470h3M58 471h3M72 471h1M74 471h1M76 471h1M58 472h1M60 472h12M73 472h1M62 473h1M65 473h2M68 473h1M90 475h1M92 475h2M95 475h1M90 476h1M95 476h1M88 477h2M96 477h2M88 478h1M97 478h1M88 479h1M88 480h1M88 481h1M97 481h1M88 482h2M97 482h1M89 483h1M95 483h1M90 484h6M55 486h4M60 486h2M52 487h6M59 487h4M64 487h2M51 488h2M54 488h1M63 488h5M49 489h4M65 489h4M48 490h1M50 490h2M68 490h3M49 491h1M68 491h3M49 492h2M70 492h2M47 493h3M69 493h3M48 494h1M50 494h1M69 494h1M71 494h1M49 495h2M69 495h3M48 496h4M69 496h3M49 497h2M52 497h1M68 497h4M50 498h2M53 498h1M68 498h3M55 499h2M67 499h2M53 500h2M56 500h10M67 500h1M56 501h4M62 501h4" stroke-opacity="0.72"/><path d="M65 464h4M70 464h4M61 465h15M61 466h7M69 466h8M59 467h6M71 467h6M59 468h5M71 468h3M75 468h2M59 469h7M69 469h7M60 470h15M61 471h2M64 471h3M68 471h4M91 476h4M90 477h6M89 478h2M95 478h2M89 479h2M95 479h2M89 480h2M95 480h2M89 481h2M95 481h2M90 482h6M91 483h4M58 488h5M53 489h2M56 489h9M52 490h14M53 491h15M51 492h6M62 492h4M67 492h2M51 493h5M63 493h6M51 494h6M64 494h5M52 495h1M54 495h3M63 495h1M65 495h3M52 496h4M57 496h10M53 497h15M54 498h10M57 499h2M60 499h5" stroke-opacity="0.86"/><path d="M68 466h1M65 467h6M64 468h7M66 469h3M91 478h3M91 479h4M91 480h1M93 480h2M91 481h4M57 492h5M56 493h3M60 493h3M57 494h6M57 495h6" stroke-opacity="1.0"/></g>
<g stroke="#000" stroke-width="1" fill="none" transform="translate(0 .5)"><path d="M179 447h1M196 452h1M199 453h1M198 454h1M200 455h1M210 455h1M179 456h1M185 457h1M210 458h1M192 459h2M201 459h1M187 460h2M226 460h1M177 461h1M204 461h2M214 461h1M178 462h1M180 462h1M214 464h1M220 464h1M173 465h2M212 465h1M217 465h1M216 467h2M168 468h2M221 469h1M218 470h1M220 470h1M162 471h1M164 473h1M166 473h1M163 474h1M220 474h1M163 475h1M167 476h1M159 477h1M165 479h1M225 479h1M175 481h1M177 481h2M221 482h2M169 483h1M172 483h1M166 484h1M175 484h1M163 485h1M171 485h1M176 485h1M159 486h1M165 487h1M171 487h1M173 487h1M164 490h1M166 490h1M168 490h1M217 490h1M221 492h1M170 493h2M211 493h1M216 493h1M233 494h1M171 495h1M203 495h1M210 496h1M208 497h1M217 498h1M220 498h1M162 500h1M216 500h1M173 502h1M170 505h1M174 506h1M196 506h1M200 506h1M172 508h1M178 508h1M194 508h1M180 509h1M182 509h1M186 509h1M182 510h1M189 510h2M170 511h1M197 511h1M182 512h1M184 512h1M179 514h1M187 516h1M171 517h1M179 517h1M178 519h1M189 526h1" stroke-opacity="0.3"/><path d="M192 460h1M199 460h1M186 461h1M191 462h1M193 462h1M195 462h2M200 462h1M203 462h1M205 462h1M180 463h1M182 463h1M186 463h1M197 463h2M204 463h2M201 464h1M203 464h2M207 464h2M180 465h2M202 465h1M204 465h1M211 465h1M175 466h4M180 466h1M203 466h1M212 466h1M203 467h3M209 467h1M176 468h2M207 468h1M172 469h1M175 469h1M210 469h2M214 469h1M213 470h1M173 471h1M217 471h1M170 472h1M175 472h1M215 472h1M173 473h2M176 473h1M218 473h2M172 474h4M174 475h1M177 475h2M176 476h2M179 476h2M193 476h2M196 476h1M218 476h1M180 477h3M184 477h3M188 477h1M191 477h2M195 477h2M219 477h1M177 478h1M179 478h1M182 478h3M186 478h1M189 478h1M194 478h1M219 478h1M177 479h1M187 479h2M192 479h4M219 479h1M180 480h2M193 480h1M184 481h1M194 481h1M219 481h1M180 482h1M220 482h1M183 483h1M186 483h2M190 483h2M193 483h1M218 483h1M183 484h1M191 484h1M194 484h4M182 485h2M190 485h1M195 485h1M178 486h1M181 486h1M185 486h1M188 486h2M191 486h1M196 486h1M178 487h3M185 487h1M187 487h1M191 487h1M195 487h1M199 487h1M215 487h1M174 488h1M177 488h1M179 488h1M182 488h1M194 488h1M196 488h2M216 488h1M179 489h1M192 489h1M201 489h1M213 489h2M177 490h1M179 490h1M196 490h1M202 490h1M205 490h1M208 490h1M211 490h2M214 490h1M178 491h1M195 491h2M200 491h1M204 491h1M177 492h1M195 492h1M197 492h2M200 492h1M202 492h2M207 492h1M198 493h1M174 494h1M176 494h1M196 494h2M175 495h1M198 495h1M172 496h1M196 496h1M174 497h1M196 497h1M199 497h1M176 498h2M197 498h1M174 499h1M177 499h1M197 499h3M173 500h2M176 500h2M198 500h2M178 501h1M176 502h1M193 502h2M196 502h1M176 503h1M178 503h1M181 503h1M191 503h1M193 503h1M195 503h2M179 504h2M182 504h2M189 504h1M181 505h2M189 505h2M193 505h1M181 506h4M186 506h1M191 506h1M183 507h1M186 508h1" stroke-opacity="0.44"/><path d="M191 463h3M186 464h1M188 464h1M192 464h3M196 464h1M183 465h1M185 465h1M187 465h1M190 465h3M194 465h1M196 465h1M198 465h1M181 466h2M184 466h3M195 466h1M198 466h4M180 467h5M197 467h2M180 468h3M199 468h2M202 468h1M204 468h1M179 469h1M181 469h1M197 469h2M200 469h1M203 469h1M178 470h2M199 470h2M203 470h1M207 470h2M210 470h2M176 471h1M180 471h1M198 471h2M202 471h2M205 471h2M208 471h2M211 471h1M213 471h1M179 472h2M195 472h3M200 472h3M212 472h2M177 473h2M181 473h1M191 473h3M199 473h1M201 473h1M214 473h1M177 474h2M180 474h1M182 474h5M190 474h1M194 474h7M215 474h1M180 475h1M182 475h1M185 475h1M187 475h1M190 475h2M195 475h2M198 475h2M217 475h1M184 476h2M188 476h1M197 476h3M216 476h1M199 477h1M217 477h1M197 478h2M217 478h2M197 479h2M218 479h1M197 480h1M217 480h2M198 481h1M217 481h1M199 482h1M217 482h2M198 484h3M216 484h2M199 485h2M215 485h2M200 486h2M215 486h1M201 487h1M203 487h1M213 487h1M185 488h3M202 488h1M204 488h2M207 488h1M210 488h3M181 489h1M183 489h2M186 489h1M190 489h2M205 489h1M207 489h1M210 489h1M180 490h3M184 490h8M179 491h2M183 491h2M188 491h2M191 491h2M178 492h1M180 492h1M190 492h2M194 492h1M179 493h1M192 493h1M178 494h1M180 494h2M192 494h1M194 494h1M177 495h1M179 495h1M192 495h2M177 496h1M180 496h1M192 496h2M177 497h1M180 497h1M192 497h2M195 497h1M191 498h3M178 499h4M193 499h2M179 500h4M189 500h5M180 501h2M184 501h7M192 501h2M181 502h1M184 502h4M189 502h1M192 502h1M182 503h1M184 503h3M187 504h1" stroke-opacity="0.58"/><path d="M189 466h4M194 466h1M186 467h2M192 467h5M183 468h4M188 468h2M192 468h3M196 468h1M182 469h9M193 469h3M181 470h1M183 470h13M181 471h7M189 471h3M193 471h3M182 472h6M190 472h1M192 472h1M204 472h6M211 472h1M183 473h1M185 473h5M202 473h5M209 473h1M211 473h3M202 474h2M212 474h1M214 474h1M201 475h2M214 475h2M200 476h1M215 476h1M200 477h2M215 477h2M199 478h2M216 478h1M199 479h2M216 479h1M199 480h2M216 480h1M200 481h1M216 481h1M215 482h2M200 483h2M215 483h2M201 484h2M214 484h2M201 485h1M203 485h1M213 485h1M204 486h2M211 486h3M204 487h8M187 491h1M183 492h1M187 492h2M182 493h3M186 493h5M182 494h7M190 494h2M181 495h3M185 495h7M181 496h2M185 496h1M187 496h4M181 497h6M189 497h3M182 498h1M184 498h2M187 498h4M183 499h2M186 499h2M189 499h2M185 500h3" stroke-opacity="0.72"/><path d="M208 473h1M204 474h7M203 475h11M202 476h3M211 476h4M202 477h1M213 477h2M201 478h1M203 478h1M213 478h3M201 479h2M214 479h2M202 480h1M214 480h2M202 481h1M213 481h3M201 482h3M213 482h2M202 483h3M212 483h2M203 484h3M211 484h3M204 485h4M209 485h4M206 486h3M210 486h1" stroke-opacity="0.86"/><path d="M205 476h6M204 477h9M204 478h9M203 479h11M203 480h11M203 481h10M204 482h9M205 483h7M206 484h5" stroke-opacity="1.0"/></g>
<rect x="31.7" y="437" width="106.30" height="108.30" fill="none" stroke="#4a4a4a" stroke-width="1.1"/>
<path d="M58.3 437v-2.0M58.3 545.3v2.0M84.8 437v-2.0M84.8 545.3v2.0M111.4 437v-2.0M111.4 545.3v2.0M31.7 464.1h-2.0M138 464.1h2.0M31.7 491.1h-2.0M138 491.1h2.0M31.7 518.2h-2.0M138 518.2h2.0" stroke="#4a4a4a" stroke-width="1.1" fill="none"/>
<rect x="149" y="437" width="106.60" height="108.60" fill="none" stroke="#4a4a4a" stroke-width="1.1"/>
<path d="M175.7 437v-2.0M175.7 545.6v2.0M202.3 437v-2.0M202.3 545.6v2.0M228.9 437v-2.0M228.9 545.6v2.0M149 464.1h-2.0M255.6 464.1h2.0M149 491.3h-2.0M255.6 491.3h2.0M149 518.5h-2.0M255.6 518.5h2.0" stroke="#4a4a4a" stroke-width="1.1" fill="none"/>
<path d="M90.0 463.1 L106.6 463.1 L106.6 480.9" stroke="#cc1a28" stroke-width="1.5" fill="none"/>
<path d="M80.3 480.3 L88.0 495.4 L104.0 495.4" stroke="#cc1a28" stroke-width="1.5" fill="none"/>
<path d="M77.1 452.3 L32.6 452.3 L32.6 480.3 L80.3 480.3 L90.0 463.1 L90.0 455.4" stroke="#1e8c2a" stroke-width="1.5" fill="none"/>
<rect x="75" y="427" width="33" height="12" fill="#fff"/>
<text x="91.5" y="437.4" text-anchor="middle" fill="#1e8c2a" stroke="#1e8c2a">NKT2</text>
<text x="90.9" y="451.7" text-anchor="middle" fill="#1e8c2a" stroke="#1e8c2a">35.1</text>
<text x="119.2" y="494" text-anchor="middle" fill="#cc1a28" stroke="#cc1a28">16.2</text>
<text x="98.3" y="507.1" fill="#cc1a28" stroke="#cc1a28">NKT17</text>
<path d="M207.0 463.0 L224.0 463.0 L224.0 481.0" stroke="#cc1a28" stroke-width="1.5" fill="none"/>
<path d="M196.4 480.4 L205.0 495.6 L221.0 495.6" stroke="#cc1a28" stroke-width="1.5" fill="none"/>
<path d="M194.4 452.4 L149.8 452.4 L149.8 480.4 L196.4 480.4 L207.0 463.0 L207.0 456.0" stroke="#1e8c2a" stroke-width="1.5" fill="none"/>
<rect x="192.3" y="427" width="33" height="12" fill="#fff"/>
<text x="208.8" y="437.6" text-anchor="middle" fill="#1e8c2a" stroke="#1e8c2a">NKT2</text>
<text x="207.5" y="452" text-anchor="middle" fill="#1e8c2a" stroke="#1e8c2a">14.9</text>
<text x="235.4" y="494.4" text-anchor="middle" fill="#cc1a28" stroke="#cc1a28">68.2</text>
<text x="215" y="508" fill="#cc1a28" stroke="#cc1a28">NKT17</text>
<line x1="16.6" y1="557.6" x2="16.6" y2="525" stroke="#111" stroke-width="1.2"/>
<path d="M13.100000000000001 527.5L16.6 518L20.1 527.5Z" fill="#111"/>
<line x1="16.0" y1="557.6" x2="48.4" y2="557.6" stroke="#111" stroke-width="1.2"/>
<path d="M45.9 554.1L55.4 557.6L45.9 561.1Z" fill="#111"/>
<text x="10" y="557" fill="#111" stroke="#111" transform="rotate(-90 10 557)">PLZF</text>
<text x="18" y="574.3" fill="#111" stroke="#111">ROR<tspan class="g">γ</tspan>t</text>
<g stroke="#000" stroke-width="1" fill="none" transform="translate(0 .5)"><path d="M133 592h1M89 599h1M77 602h1M84 604h1M84 606h1M73 607h1M77 607h1M62 608h1M74 608h1M96 608h1M59 609h1M72 609h1M64 611h1M66 611h1M63 612h1M88 612h1M59 614h2M89 617h1M92 617h1M99 617h1M90 618h1M55 620h1M88 621h2M95 621h1M100 621h1M87 622h1M54 623h1M39 625h1M53 625h1M85 626h1M91 627h1M101 628h1M103 628h1M40 629h1M48 629h1M51 629h1M53 629h1M87 629h1M93 629h1M95 630h1M105 630h1M49 631h1M52 631h1M116 631h1M81 633h1M44 634h1M80 634h1M79 635h1M102 635h1M51 636h1M43 637h1M77 638h1M111 638h1M45 639h2M75 639h2M45 640h1M76 640h1M105 640h1M72 641h1M77 641h1M107 641h2M74 642h1M42 643h1M76 643h1M45 644h1M48 644h2M72 645h1M43 646h1M72 646h1M108 646h1M69 647h1M71 647h3M44 648h1M48 648h1M70 648h2M71 649h1M47 650h1M51 650h1M68 650h1M46 651h1M48 651h1M70 651h2M106 651h1M50 652h1M52 652h1M72 652h1M39 653h1M44 653h1M53 653h1M66 653h1M72 653h1M106 653h1M64 654h1M67 654h1M77 654h1M38 655h1M55 655h1M59 655h1M66 655h1M105 655h1M69 656h1M76 656h1M78 656h2M103 656h1M35 657h1M51 657h1M74 657h1M41 658h1M55 658h1M69 658h2M73 658h1M75 658h1M50 659h1M53 659h1M82 659h1M103 659h1M57 660h1M81 660h1M64 661h1M81 661h1M99 661h2M60 662h1M98 662h1M106 662h1M87 663h1M53 664h1M68 664h1M48 666h1M55 666h1M60 666h1M90 666h1M89 667h1M48 668h1M86 668h1M91 668h1M62 669h2M74 670h1M100 670h1M79 671h1M97 671h1M56 677h1" stroke-opacity="0.3"/><path d="M83 609h1M73 610h2M76 610h2M79 610h2M81 611h1M83 611h1M87 611h1M67 612h1M71 612h1M83 612h1M86 612h1M67 613h1M85 613h1M88 613h1M64 614h1M67 614h1M88 614h1M62 615h1M86 615h1M88 615h1M64 616h1M86 616h1M59 617h1M85 617h1M60 618h1M85 618h2M88 618h1M84 620h3M57 621h1M60 621h1M83 621h1M85 621h1M87 621h1M58 622h2M85 622h1M59 623h1M82 623h2M55 624h2M58 624h1M83 624h1M56 625h1M59 625h1M80 625h2M57 626h3M78 626h1M55 627h1M59 627h1M78 627h1M57 628h2M76 628h2M81 628h1M76 629h1M56 630h1M58 630h1M91 630h1M55 631h1M58 631h1M77 631h1M79 631h1M87 631h1M83 632h1M90 632h2M95 632h1M53 633h2M56 633h2M76 633h2M85 633h1M89 633h1M91 633h3M96 633h1M99 633h1M53 634h1M57 634h1M77 634h1M82 634h1M85 634h2M96 634h4M57 635h1M81 635h1M83 635h1M85 635h1M98 635h1M57 636h1M85 636h1M100 636h1M55 637h1M73 637h1M84 637h1M99 637h2M58 638h1M70 638h1M74 638h1M82 638h1M100 638h1M102 638h1M52 639h1M55 639h1M58 639h2M73 639h1M103 639h1M52 640h1M57 640h1M59 640h1M61 640h1M66 640h2M69 640h1M80 640h2M102 640h1M60 641h1M64 641h1M66 641h2M70 641h1M80 641h1M103 641h1M59 642h1M61 642h1M64 642h1M70 642h1M79 642h1M81 642h1M102 642h1M62 643h1M64 643h2M67 643h1M102 643h1M51 644h1M53 644h1M55 644h1M63 644h1M65 644h2M68 644h2M78 644h1M80 644h1M102 644h1M55 645h1M57 645h1M59 645h2M69 645h1M80 645h1M103 645h1M105 645h1M52 646h1M55 646h1M63 646h2M61 647h1M64 647h1M78 647h1M53 648h1M56 648h1M62 648h1M66 648h1M68 648h1M80 648h1M103 648h1M53 649h1M55 649h1M61 649h1M63 649h1M77 649h1M104 649h1M55 650h2M64 650h1M66 650h1M78 650h1M102 650h1M60 651h1M63 651h1M78 651h1M102 651h2M54 652h1M59 652h2M103 652h1M79 653h2M82 653h1M60 654h1M63 654h1M81 654h1M82 656h1M84 656h1M101 656h1M85 657h1M82 658h1M97 658h1M100 658h2M86 659h1M100 659h1M84 660h1M92 660h1M97 660h1M89 661h1M92 662h1" stroke-opacity="0.44"/><path d="M76 611h1M78 611h1M72 612h4M79 612h1M82 612h1M69 613h1M71 613h2M81 613h1M68 614h2M82 614h2M66 615h3M83 615h2M66 616h1M83 616h2M64 617h2M83 617h1M63 618h1M83 618h1M63 619h1M83 619h2M62 621h1M81 621h2M61 622h1M80 622h1M82 622h1M61 623h1M80 623h2M60 624h1M62 624h1M78 624h1M60 625h3M76 625h1M61 626h2M75 626h1M62 627h1M73 627h2M76 627h1M60 628h1M62 628h1M73 628h1M73 629h1M59 630h2M73 630h2M59 631h2M73 631h2M58 632h1M73 632h1M59 633h1M73 633h2M59 634h1M91 634h1M93 634h1M59 635h1M73 635h1M88 635h2M91 635h1M93 635h2M96 635h1M58 636h1M71 636h1M86 636h2M89 636h1M69 637h2M85 637h2M96 637h2M59 638h2M62 638h1M67 638h3M84 638h2M97 638h2M62 639h2M84 639h1M99 639h1M100 640h1M82 641h2M100 641h2M83 642h1M100 642h2M83 643h1M100 643h1M81 644h1M101 646h2M81 647h2M82 648h1M101 648h1M82 650h1M101 650h1M82 651h1M100 651h1M82 652h2M100 652h1M99 653h2M84 654h2M98 654h3M85 655h2M98 655h2M85 656h3M96 656h2M86 657h2M94 657h1M89 658h5M95 658h2M91 659h4" stroke-opacity="0.58"/><path d="M73 613h1M75 613h2M78 613h2M71 614h4M78 614h4M69 615h2M80 615h3M67 616h1M82 616h1M66 617h2M81 617h2M65 618h2M82 618h1M64 619h2M81 619h2M63 620h2M80 620h2M63 621h2M79 621h2M63 622h2M79 622h1M62 623h3M78 623h1M63 624h2M75 624h3M63 625h3M73 625h3M63 626h1M65 626h2M68 626h5M74 626h1M63 627h5M69 627h4M63 628h6M70 628h3M62 629h3M70 629h2M61 630h3M71 630h2M61 631h1M71 631h2M60 632h2M72 632h1M60 633h1M71 633h2M60 634h1M60 635h2M70 635h2M60 636h3M90 636h4M61 637h1M63 637h6M88 637h3M94 637h1M64 638h3M86 638h4M94 638h1M86 639h2M96 639h2M86 640h1M97 640h1M85 641h1M98 641h2M84 642h2M98 642h2M84 643h1M99 643h1M83 644h2M83 645h1M99 645h2M83 646h2M99 646h1M84 647h1M99 647h2M83 648h1M99 648h2M83 649h1M99 649h1M84 650h1M99 650h1M84 651h2M99 651h1M84 652h2M99 652h1M85 653h1M97 653h2M86 654h1M96 654h1M89 655h2M93 655h4M89 656h4M94 656h2M90 657h4" stroke-opacity="0.72"/><path d="M75 614h3M71 615h1M73 615h7M70 616h10M68 617h3M77 617h4M67 618h3M78 618h3M66 619h3M77 619h4M65 620h4M77 620h1M79 620h1M65 621h3M76 621h3M65 622h4M74 622h4M65 623h12M65 624h2M68 624h7M66 625h7M65 629h5M64 630h6M63 631h8M62 632h1M64 632h8M62 633h2M65 633h1M67 633h4M61 634h9M62 635h8M63 636h6M90 638h1M92 638h2M89 639h3M93 639h2M87 640h10M86 641h9M96 641h2M86 642h3M95 642h3M85 643h4M95 643h4M85 644h3M96 644h3M86 645h2M96 645h3M85 646h3M96 646h2M85 647h3M96 647h3M85 648h3M96 648h3M85 649h3M96 649h3M85 650h4M95 650h4M86 651h1M88 651h1M95 651h3M86 652h1M88 652h9M87 653h9M88 654h8M91 655h2" stroke-opacity="0.86"/><path d="M72 617h5M70 618h7M69 619h8M69 620h8M68 621h8M69 622h5M66 633h1M89 642h6M89 643h3M93 643h2M88 644h8M88 645h8M88 646h8M88 647h8M88 648h8M88 649h8M89 650h5M89 651h6" stroke-opacity="1.0"/></g>
<g stroke="#000" stroke-width="1" fill="none" transform="translate(0 .5)"><path d="M207 596h1M189 600h1M195 600h1M198 601h1M203 607h1M182 609h1M190 609h1M193 609h1M197 609h1M168 610h1M186 610h2M196 610h1M178 611h1M183 611h2M189 611h1M194 611h2M199 611h1M181 612h1M186 612h1M210 613h1M175 614h1M176 615h1M202 615h1M169 616h1M177 616h1M179 616h1M206 616h1M176 617h1M206 617h1M210 617h1M166 618h1M202 618h1M208 618h1M207 620h1M167 621h1M170 622h1M209 622h1M168 623h1M170 623h1M204 623h1M206 623h1M203 624h1M207 624h1M160 625h1M222 625h1M167 626h1M209 626h1M154 629h1M205 629h1M211 629h1M163 630h1M151 631h1M211 631h1M202 632h1M206 632h1M217 632h1M158 633h1M162 633h1M213 633h1M157 634h2M162 634h1M206 634h1M220 634h1M201 635h2M217 635h1M158 636h1M161 636h1M203 636h1M156 637h1M218 637h1M159 638h1M199 638h1M219 638h2M223 638h1M196 641h1M194 642h1M200 642h1M160 643h1M199 643h1M222 643h1M160 644h1M194 644h1M201 644h1M158 645h2M195 645h1M200 645h1M192 646h1M158 647h1M198 647h1M185 650h1M159 651h1M197 651h1M195 652h1M158 653h1M160 653h1M164 653h1M182 653h1M190 653h1M195 653h1M200 653h2M222 653h1M188 654h1M200 654h1M221 654h1M159 655h1M164 655h2M167 655h1M187 655h1M196 655h1M202 655h1M166 656h1M200 656h1M183 657h1M199 657h1M163 658h1M172 658h1M176 658h1M192 658h1M227 658h1M163 659h1M169 659h1M175 659h2M180 659h1M188 659h1M172 660h2M204 660h1M172 661h1M203 661h2M217 661h1M174 662h1M184 662h2M221 662h1M185 663h1M177 664h1M214 664h1M225 664h1M216 665h1M166 666h1M172 666h1M176 666h1M170 667h1M212 667h1M207 668h1M210 668h1M219 669h1M213 674h1" stroke-opacity="0.3"/><path d="M187 612h1M194 612h1M196 612h1M186 613h1M190 613h1M193 613h1M183 614h1M187 614h1M189 614h1M192 614h2M195 614h1M185 615h1M200 615h1M181 616h2M200 616h1M180 617h1M183 617h1M196 617h1M198 617h1M179 618h1M181 618h1M197 618h1M199 618h1M176 619h2M197 619h1M174 620h2M178 620h3M198 620h1M201 620h1M177 621h2M198 621h1M175 622h2M198 622h3M171 623h1M175 623h1M198 623h1M201 623h1M170 624h1M172 624h2M198 624h1M171 625h2M198 625h4M168 626h1M198 626h2M171 627h1M198 627h2M167 628h1M198 628h1M167 629h1M200 629h1M198 630h1M201 630h1M168 631h1M198 631h1M165 632h2M197 632h1M201 632h1M165 633h1M197 633h1M201 633h1M197 634h2M164 635h1M212 635h1M195 636h1M197 636h1M210 636h2M194 637h1M204 637h1M209 637h1M211 637h2M214 637h1M163 638h1M206 638h1M208 638h1M212 638h1M215 638h2M162 639h2M204 639h1M206 639h1M208 639h1M214 639h1M217 639h1M165 640h1M203 640h1M205 640h1M215 640h3M161 641h3M165 641h1M191 641h1M206 641h2M217 641h1M161 642h1M165 642h2M191 642h2M202 642h1M206 642h1M162 643h1M164 643h2M188 643h3M203 643h3M162 644h1M166 644h2M190 644h2M163 645h1M165 645h1M187 645h1M219 645h2M168 646h2M181 646h1M183 646h1M187 646h1M189 646h1M218 646h2M166 647h1M169 647h1M171 647h1M173 647h1M175 647h2M178 647h2M181 647h1M183 647h2M203 647h2M218 647h1M167 648h2M172 648h1M178 648h1M186 648h1M204 648h1M218 648h1M163 649h1M166 649h1M168 649h1M172 649h1M174 649h3M178 649h1M181 649h1M203 649h1M218 649h1M172 650h1M177 650h1M179 650h2M204 650h1M218 650h1M165 651h1M171 651h3M177 651h1M203 651h2M220 651h1M174 652h1M182 652h1M202 652h1M219 652h2M168 653h2M173 653h1M178 653h2M205 653h1M219 653h2M172 654h1M174 654h1M179 654h2M206 654h1M219 654h1M173 655h1M176 655h1M203 655h1M205 655h1M218 655h1M207 656h1M216 656h1M206 657h1M215 658h1M208 659h2M215 659h1M208 660h1M211 660h1M213 660h1M215 660h1M213 661h2M216 661h1M212 662h1" stroke-opacity="0.44"/><path d="M190 615h2M186 616h1M188 616h3M192 616h1M194 616h1M185 617h2M190 617h3M194 617h1M184 618h1M186 618h2M196 618h1M183 619h1M195 619h1M181 620h2M194 620h3M180 621h1M182 621h1M180 622h2M196 622h1M178 623h1M196 623h1M176 624h3M196 624h2M175 625h2M196 625h1M173 626h1M195 626h1M197 626h1M172 627h3M171 628h3M172 629h1M196 629h1M170 630h1M197 630h1M169 631h2M196 631h2M169 632h1M169 633h1M167 634h2M195 634h1M167 635h2M195 635h1M166 636h1M168 636h1M166 637h1M168 637h1M192 637h2M166 638h3M191 638h2M168 639h1M191 639h1M209 639h1M211 639h2M166 640h1M168 640h1M191 640h1M208 640h2M211 640h3M168 641h1M189 641h1M209 641h2M213 641h1M215 641h1M168 642h2M186 642h3M209 642h7M169 643h1M185 643h1M187 643h1M207 643h1M169 644h1M171 644h2M181 644h3M208 644h1M169 645h1M171 645h3M175 645h1M178 645h3M206 645h3M215 645h1M171 646h1M173 646h8M207 646h1M215 646h3M206 647h2M217 647h1M207 648h1M216 648h1M206 649h1M207 650h1M217 650h1M206 651h2M215 651h2M207 652h2M216 652h2M206 653h1M208 653h1M215 653h1M209 654h1M214 654h1M216 654h1M207 655h4M212 655h1M210 656h3M214 656h1M209 657h2M212 657h1M214 657h1M210 658h1" stroke-opacity="0.58"/><path d="M188 618h1M190 618h1M192 618h1M186 619h8M184 620h9M183 621h5M190 621h1M192 621h2M182 622h3M191 622h3M180 623h3M192 623h1M194 623h1M179 624h2M192 624h3M177 625h3M193 625h2M176 626h1M193 626h1M193 627h3M174 628h2M193 628h3M173 629h2M193 629h3M172 630h2M193 630h2M171 631h1M193 631h2M170 632h2M193 632h2M170 633h2M193 633h1M169 634h2M193 634h1M170 635h1M192 635h2M169 636h2M191 636h2M170 637h1M190 637h2M169 638h2M190 638h1M169 639h2M189 639h1M169 640h2M187 640h2M169 641h3M184 641h2M187 641h1M170 642h4M182 642h4M171 643h2M174 643h8M183 643h1M210 643h3M175 644h4M209 644h5M210 645h1M213 645h2M209 646h5M208 647h4M213 647h3M211 648h3M208 649h6M215 649h1M209 650h3M213 650h2M208 651h1M210 651h5M212 652h3M209 653h6M210 654h3" stroke-opacity="0.72"/><path d="M189 621h1M185 622h4M190 622h1M185 623h7M182 624h1M184 624h2M187 624h4M180 625h13M179 626h6M187 626h6M179 627h3M189 627h4M176 628h4M190 628h3M175 629h3M190 629h3M174 630h3M190 630h3M173 631h3M190 631h1M192 631h1M172 632h3M190 632h3M172 633h3M190 633h3M171 634h3M189 634h3M171 635h3M189 635h3M171 636h1M173 636h1M188 636h3M171 637h1M173 637h1M187 637h3M171 638h4M185 638h4M171 639h5M183 639h2M186 639h2M173 640h13M174 641h1M176 641h8M174 642h1M178 642h4" stroke-opacity="0.86"/><path d="M185 626h2M182 627h7M180 628h10M178 629h12M177 630h13M176 631h14M175 632h15M175 633h15M174 634h11M186 634h3M174 635h15M174 636h14M174 637h13M175 638h10M176 639h7" stroke-opacity="1.0"/></g>
<rect x="31.6" y="590" width="106.40" height="108.30" fill="none" stroke="#4a4a4a" stroke-width="1.1"/>
<path d="M58.2 590v-2.0M58.2 698.3v2.0M84.8 590v-2.0M84.8 698.3v2.0M111.4 590v-2.0M111.4 698.3v2.0M31.6 617.1h-2.0M138 617.1h2.0M31.6 644.1h-2.0M138 644.1h2.0M31.6 671.2h-2.0M138 671.2h2.0" stroke="#4a4a4a" stroke-width="1.1" fill="none"/>
<rect x="148.6" y="590" width="107.00" height="108.30" fill="none" stroke="#4a4a4a" stroke-width="1.1"/>
<path d="M175.3 590v-2.0M175.3 698.3v2.0M202.1 590v-2.0M202.1 698.3v2.0M228.8 590v-2.0M228.8 698.3v2.0M148.6 617.1h-2.0M255.6 617.1h2.0M148.6 644.1h-2.0M255.6 644.1h2.0M148.6 671.2h-2.0M255.6 671.2h2.0" stroke="#4a4a4a" stroke-width="1.1" fill="none"/>
<path d="M94.0 629.0 L109.0 629.0 L109.0 664.0" stroke="#1212cc" stroke-width="1.5" fill="none"/>
<path d="M94.0 629.0 L78.0 641.0 L78.0 666.4 L95.0 666.4" stroke="#1212cc" stroke-width="1.5" fill="none"/>
<text x="109.2" y="677.4" text-anchor="middle" fill="#1212cc" stroke="#1212cc">45.6</text>
<text x="109.2" y="691.6" text-anchor="middle" fill="#1212cc" stroke="#1212cc">NKT1</text>
<path d="M211.0 629.0 L226.0 629.0 L226.0 664.4" stroke="#1212cc" stroke-width="1.5" fill="none"/>
<path d="M211.0 629.0 L195.0 641.0 L195.0 666.0 L212.0 666.0" stroke="#1212cc" stroke-width="1.5" fill="none"/>
<text x="226.8" y="677" text-anchor="middle" fill="#1212cc" stroke="#1212cc">13.3</text>
<text x="226" y="691.4" text-anchor="middle" fill="#1212cc" stroke="#1212cc">NKT1</text>
<line x1="16.6" y1="711.4" x2="16.6" y2="679" stroke="#111" stroke-width="1.2"/>
<path d="M13.100000000000001 681.5L16.6 672L20.1 681.5Z" fill="#111"/>
<line x1="16.0" y1="711.4" x2="48.4" y2="711.4" stroke="#111" stroke-width="1.2"/>
<path d="M45.9 707.9L55.4 711.4L45.9 714.9Z" fill="#111"/>
<text x="10" y="710.7" fill="#111" stroke="#111" transform="rotate(-90 10 710.7)">PLZF</text>
<text x="17.7" y="727.2" fill="#111" stroke="#111">T-bet</text>
<text x="325.5" y="360.5" fill="#111" stroke="#111">NKT2, NKT17 frequency</text>
<text x="320.0" y="382.3" text-anchor="end" fill="#111" stroke="#111">80</text>
<text x="320.0" y="414.6" text-anchor="end" fill="#111" stroke="#111">60</text>
<text x="320.0" y="446.8" text-anchor="end" fill="#111" stroke="#111">40</text>
<text x="320.0" y="479.0" text-anchor="end" fill="#111" stroke="#111">20</text>
<text x="320.0" y="511.1" text-anchor="end" fill="#111" stroke="#111">0</text>
<path d="M327.5 377.5V506.25H483.6M327.5 377.5h-4.5M327.5 409.8h-4.5M327.5 442h-4.5M327.5 474.2h-4.5M327.5 506.25h-4.5M405.4 506.25v-4.5" stroke="#1a1a1a" stroke-width="1.3" fill="none"/>
<text x="292.3" y="441.5" text-anchor="middle" fill="#111" stroke="#111" transform="rotate(-90 292.3 441.5)">Frequency (%)</text>
<line x1="351.7" y1="387" x2="387" y2="387" stroke="#555" stroke-width="1.5"/>
<text x="369.9" y="385.4" text-anchor="middle" font-weight="bold" font-size="14" letter-spacing="1.2" fill="#111" stroke="#111">***</text>
<line x1="423.9" y1="387" x2="459.3" y2="387" stroke="#555" stroke-width="1.5"/>
<text x="442" y="385.1" text-anchor="middle" font-weight="bold" font-size="14" letter-spacing="1.2" fill="#111" stroke="#111">***</text>
<text x="370.9" y="523.6" text-anchor="middle" fill="#1e8c2a" stroke="#1e8c2a">NKT2</text>
<text x="443.3" y="523.6" text-anchor="middle" fill="#cc1a28" stroke="#cc1a28">NKT17</text>
<g fill="#1e8c2a"><circle cx="351.5" cy="399.7" r="2.8"/><circle cx="351.5" cy="427.1" r="2.8"/><circle cx="351.5" cy="432.5" r="2.8"/><circle cx="342" cy="449.4" r="2.8"/><circle cx="360.9" cy="449.4" r="2.8"/><circle cx="351.5" cy="445.4" r="2.8"/><circle cx="351.5" cy="458" r="2.8"/><circle cx="346.6" cy="468.1" r="2.8"/><circle cx="356.3" cy="466.3" r="2.8"/></g>
<line x1="351.5" y1="436.9" x2="351.5" y2="451.4" stroke="#222" stroke-width="1.2"/>
<line x1="346.0" y1="436.9" x2="357.0" y2="436.9" stroke="#222" stroke-width="1.2"/>
<line x1="346.0" y1="451.4" x2="357.0" y2="451.4" stroke="#222" stroke-width="1.2"/>
<line x1="339.7" y1="443.7" x2="363.4" y2="443.7" stroke="#000" stroke-width="2.6"/>
<g fill="none" stroke="#1e8c2a" stroke-width="0.95"><circle cx="387.5" cy="458.6" r="2.55"/><circle cx="385.2" cy="465.4" r="2.55"/><circle cx="381.4" cy="471.7" r="2.55"/><circle cx="389.4" cy="468.9" r="2.55"/><circle cx="393.2" cy="471.7" r="2.55"/><circle cx="385" cy="472" r="2.55"/><circle cx="378.5" cy="483.5" r="2.55"/><circle cx="382.5" cy="482" r="2.55"/><circle cx="386.5" cy="484.5" r="2.55"/><circle cx="390.5" cy="482" r="2.55"/><circle cx="395.5" cy="482.5" r="2.55"/><circle cx="378" cy="487.5" r="2.55"/><circle cx="382" cy="491" r="2.55"/><circle cx="387" cy="490.5" r="2.55"/><circle cx="391.5" cy="490.5" r="2.55"/><circle cx="396" cy="489" r="2.55"/><circle cx="382" cy="494.8" r="2.55"/><circle cx="389" cy="494.5" r="2.55"/><circle cx="395" cy="494" r="2.55"/></g>
<line x1="387.3" y1="476.4" x2="387.3" y2="482.2" stroke="#222" stroke-width="1.2"/>
<line x1="381.3" y1="476.4" x2="393.3" y2="476.4" stroke="#222" stroke-width="1.2"/>
<line x1="381.3" y1="482.2" x2="393.3" y2="482.2" stroke="#222" stroke-width="1.2"/>
<line x1="375.5" y1="479.1" x2="399.1" y2="479.1" stroke="#000" stroke-width="2.6"/>
<g fill="#cc1a28"><circle cx="423.4" cy="445.6" r="2.8"/><circle cx="414" cy="478.2" r="2.8"/><circle cx="414" cy="483.5" r="2.8"/><circle cx="420.6" cy="479.8" r="2.8"/><circle cx="426.3" cy="483.1" r="2.8"/><circle cx="432.1" cy="483.1" r="2.8"/><circle cx="419.8" cy="487.1" r="2.8"/><circle cx="426.3" cy="491.7" r="2.8"/><circle cx="419.8" cy="495.8" r="2.8"/></g>
<line x1="423.4" y1="476.5" x2="423.4" y2="486.5" stroke="#222" stroke-width="1.2"/>
<line x1="418.9" y1="476.5" x2="427.9" y2="476.5" stroke="#222" stroke-width="1.2"/>
<line x1="418.9" y1="486.5" x2="427.9" y2="486.5" stroke="#222" stroke-width="1.2"/>
<line x1="411.5" y1="481" x2="434.9" y2="481" stroke="#000" stroke-width="2.6"/>
<g fill="none" stroke="#cc1a28" stroke-width="0.95"><circle cx="464.2" cy="392.1" r="2.55"/><circle cx="454.3" cy="397" r="2.55"/><circle cx="454.3" cy="406.1" r="2.55"/><circle cx="464.2" cy="403.1" r="2.55"/><circle cx="464.2" cy="408.9" r="2.55"/><circle cx="454.3" cy="412.3" r="2.55"/><circle cx="449.4" cy="424.2" r="2.55"/><circle cx="459.3" cy="423.4" r="2.55"/><circle cx="469.1" cy="427.2" r="2.55"/><circle cx="454.3" cy="445.6" r="2.55"/><circle cx="464.2" cy="445.1" r="2.55"/><circle cx="459.3" cy="455.5" r="2.55"/><circle cx="449.4" cy="420" r="2.55"/><circle cx="454.3" cy="419.5" r="2.55"/><circle cx="459.3" cy="418.5" r="2.55"/><circle cx="464.2" cy="420" r="2.55"/><circle cx="469.1" cy="420" r="2.55"/><circle cx="457" cy="425" r="2.55"/></g>
<line x1="459.3" y1="416.8" x2="459.3" y2="424" stroke="#222" stroke-width="1.2"/>
<line x1="453.8" y1="416.8" x2="464.8" y2="416.8" stroke="#222" stroke-width="1.2"/>
<line x1="453.8" y1="424" x2="464.8" y2="424" stroke="#222" stroke-width="1.2"/>
<line x1="447.7" y1="420.4" x2="471.1" y2="420.4" stroke="#000" stroke-width="2.6"/>
<g fill="#1e8c2a"><circle cx="499.6" cy="381.8" r="3"/></g>
<g fill="#cc1a28"><circle cx="510.4" cy="381.8" r="3"/></g>
<text x="517.4" y="386.7" fill="#111" stroke="#111">Littermate BALB/c</text>
<g fill="none" stroke="#5aa862" stroke-width="0.95"><circle cx="499.6" cy="400" r="2.65"/></g>
<g fill="none" stroke="#dd7080" stroke-width="0.95"><circle cx="510.4" cy="400" r="2.65"/></g>
<text x="517.4" y="404.7" fill="#111" stroke="#111">ROR<tspan class="g">γ</tspan>t<tspan dy="-4.6" font-size="10.3">Tg</tspan><tspan dy="4.6"> BALB/c</tspan></text>
<text x="321.2" y="550.5" fill="#111" stroke="#111">NKT1 frequency</text>
<text x="320.0" y="573.0" text-anchor="end" fill="#111" stroke="#111">80</text>
<text x="320.0" y="605.2" text-anchor="end" fill="#111" stroke="#111">60</text>
<text x="320.0" y="637.3" text-anchor="end" fill="#111" stroke="#111">40</text>
<text x="320.0" y="669.4" text-anchor="end" fill="#111" stroke="#111">20</text>
<text x="320.0" y="701.5" text-anchor="end" fill="#111" stroke="#111">0</text>
<path d="M327.5 568.25V696.75H421M327.5 568.25h-4.5M327.5 600.4h-4.5M327.5 632.5h-4.5M327.5 664.6h-4.5M327.5 696.75h-4.5" stroke="#1a1a1a" stroke-width="1.3" fill="none"/>
<text x="292.3" y="632.5" text-anchor="middle" fill="#111" stroke="#111" transform="rotate(-90 292.3 632.5)">Frequency (%)</text>
<line x1="356.2" y1="576.8" x2="391.7" y2="576.8" stroke="#555" stroke-width="1.5"/>
<text x="374.5" y="575.4" text-anchor="middle" font-weight="bold" font-size="14" letter-spacing="1.2" fill="#111" stroke="#111">**</text>
<text x="371.5" y="713" text-anchor="middle" fill="#1212cc" stroke="#1212cc">NKT1</text>
<g fill="#1212cc"><circle cx="349.3" cy="604.4" r="2.8"/><circle cx="349.3" cy="610.6" r="2.8"/><circle cx="359.3" cy="609.5" r="2.8"/><circle cx="349.3" cy="623.7" r="2.8"/><circle cx="359.3" cy="621.5" r="2.8"/><circle cx="349.3" cy="633.1" r="2.8"/><circle cx="359.3" cy="632.4" r="2.8"/><circle cx="354.2" cy="664.3" r="2.8"/><circle cx="354.2" cy="671" r="2.8"/></g>
<line x1="354.3" y1="622.4" x2="354.3" y2="638.2" stroke="#222" stroke-width="1.2"/>
<line x1="347.8" y1="622.4" x2="360.8" y2="622.4" stroke="#222" stroke-width="1.2"/>
<line x1="347.8" y1="638.2" x2="360.8" y2="638.2" stroke="#222" stroke-width="1.2"/>
<line x1="340.9" y1="630.2" x2="367.5" y2="630.2" stroke="#000" stroke-width="2.6"/>
<g fill="none" stroke="#6a6ad2" stroke-width="0.95"><circle cx="394.3" cy="615.1" r="2.55"/><circle cx="394.3" cy="630.5" r="2.55"/><circle cx="394.3" cy="636.5" r="2.55"/><circle cx="394.3" cy="642.4" r="2.55"/><circle cx="394.3" cy="651.1" r="2.55"/><circle cx="383.3" cy="654.3" r="2.55"/><circle cx="405.2" cy="653.4" r="2.55"/><circle cx="390.7" cy="661.3" r="2.55"/><circle cx="398.1" cy="664.6" r="2.55"/><circle cx="383.3" cy="665.2" r="2.55"/><circle cx="405.2" cy="663.9" r="2.55"/><circle cx="383.3" cy="671.6" r="2.55"/><circle cx="390.7" cy="672.9" r="2.55"/><circle cx="398.1" cy="675.9" r="2.55"/><circle cx="405.2" cy="675.5" r="2.55"/><circle cx="383.3" cy="678" r="2.55"/></g>
<line x1="394.3" y1="652.6" x2="394.3" y2="661.3" stroke="#222" stroke-width="1.2"/>
<line x1="387.85" y1="652.6" x2="400.75" y2="652.6" stroke="#222" stroke-width="1.2"/>
<line x1="387.85" y1="661.3" x2="400.75" y2="661.3" stroke="#222" stroke-width="1.2"/>
<line x1="381.2" y1="657.1" x2="407.4" y2="657.1" stroke="#000" stroke-width="2.6"/>
<g fill="#1212cc"><circle cx="432.4" cy="572" r="2.7"/></g>
<text x="439.6" y="576.6" fill="#111" stroke="#111">Littermate BALB/c</text>
<g fill="none" stroke="#6a6ad2" stroke-width="0.95"><circle cx="432.4" cy="591" r="2.45"/></g>
<text x="439.6" y="595" fill="#111" stroke="#111">ROR<tspan class="g">γ</tspan>t<tspan dy="-4.6" font-size="10.3">Tg</tspan><tspan dy="4.6"> BALB/c</tspan></text>
<text x="-1" y="801.7" fill="#111" stroke="#111" font-size="17.5" font-weight="bold">C</text>
<text x="32.5" y="801.5" fill="#111" stroke="#111">Gated on NKT1</text>
<line x1="32.5" y1="807.3" x2="257.6" y2="807.3" stroke="#444" stroke-width="1.3"/>
<rect x="128.5" y="762" width="14" height="6.8" fill="#a8a8a8"/>
<text x="147.5" y="769.5" fill="#111" stroke="#111">Littermate BALB/c</text>
<line x1="128.3" y1="783.8" x2="142" y2="783.8" stroke="#000" stroke-width="1.6"/>
<text x="147.5" y="787.5" fill="#111" stroke="#111">ROR<tspan class="g">γ</tspan>t<tspan dy="-4.6" font-size="10.3">Tg</tspan><tspan dy="4.6"> BALB/c</tspan></text>
<rect x="30.5" y="815" width="107.40" height="76.20" fill="none" stroke="#2a2a2a" stroke-width="1.1"/>
<path d="M57.4 815v-2.0M57.4 891.2v2.0M84.2 815v-2.0M84.2 891.2v2.0M111.1 815v-2.0M111.1 891.2v2.0M30.5 830.2h-2.0M137.9 830.2h2.0M30.5 845.5h-2.0M137.9 845.5h2.0M30.5 860.7h-2.0M137.9 860.7h2.0M30.5 876.0h-2.0M137.9 876.0h2.0M30.5 879.0h-1.1M137.9 879.0h1.1M30.5 866.8h-1.1M137.9 866.8h1.1M30.5 854.6h-1.1M137.9 854.6h1.1M30.5 842.4h-1.1M137.9 842.4h1.1M30.5 833.3h-1.1M137.9 833.3h1.1M30.5 836.3h-1.1M137.9 836.3h1.1M30.5 839.4h-1.1M137.9 839.4h1.1M30.5 842.4h-1.1M137.9 842.4h1.1M30.5 848.5h-1.1M137.9 848.5h1.1M30.5 851.6h-1.1M137.9 851.6h1.1M30.5 854.6h-1.1M137.9 854.6h1.1M30.5 857.7h-1.1M137.9 857.7h1.1M30.5 863.8h-1.1M137.9 863.8h1.1M30.5 866.8h-1.1M137.9 866.8h1.1M30.5 869.9h-1.1M137.9 869.9h1.1M30.5 872.9h-1.1M137.9 872.9h1.1M30.5 863.8h-1.1M137.9 863.8h1.1M30.5 851.6h-1.1M137.9 851.6h1.1M30.5 839.4h-1.1M137.9 839.4h1.1M30.5 827.2h-1.1M137.9 827.2h1.1" stroke="#2a2a2a" stroke-width="1.1" fill="none"/>
<rect x="148" y="815" width="109.30" height="76.20" fill="none" stroke="#2a2a2a" stroke-width="1.1"/>
<path d="M175.3 815v-2.0M175.3 891.2v2.0M202.7 815v-2.0M202.7 891.2v2.0M230.0 815v-2.0M230.0 891.2v2.0M148 830.2h-2.0M257.3 830.2h2.0M148 845.5h-2.0M257.3 845.5h2.0M148 860.7h-2.0M257.3 860.7h2.0M148 876.0h-2.0M257.3 876.0h2.0M148 879.0h-1.1M257.3 879.0h1.1M148 866.8h-1.1M257.3 866.8h1.1M148 854.6h-1.1M257.3 854.6h1.1M148 842.4h-1.1M257.3 842.4h1.1M148 833.3h-1.1M257.3 833.3h1.1M148 836.3h-1.1M257.3 836.3h1.1M148 839.4h-1.1M257.3 839.4h1.1M148 842.4h-1.1M257.3 842.4h1.1M148 848.5h-1.1M257.3 848.5h1.1M148 851.6h-1.1M257.3 851.6h1.1M148 854.6h-1.1M257.3 854.6h1.1M148 857.7h-1.1M257.3 857.7h1.1M148 863.8h-1.1M257.3 863.8h1.1M148 866.8h-1.1M257.3 866.8h1.1M148 869.9h-1.1M257.3 869.9h1.1M148 872.9h-1.1M257.3 872.9h1.1M148 863.8h-1.1M257.3 863.8h1.1M148 851.6h-1.1M257.3 851.6h1.1M148 839.4h-1.1M257.3 839.4h1.1M148 827.2h-1.1M257.3 827.2h1.1" stroke="#2a2a2a" stroke-width="1.1" fill="none"/>
<path d="M31.3 891.2 L31.3 889.97 L31.8 889.89 L32.3 889.81 L32.8 889.72 L33.3 889.62 L33.8 889.52 L34.3 889.41 L34.8 889.28 L35.3 889.14 L35.8 888.99 L36.3 888.82 L36.8 888.63 L37.3 888.42 L37.8 888.19 L38.3 887.93 L38.8 887.63 L39.3 887.30 L39.8 886.94 L40.3 886.53 L40.8 886.08 L41.3 885.58 L41.8 885.03 L42.3 884.42 L42.8 883.75 L43.3 883.02 L43.8 882.22 L44.3 881.36 L44.8 880.42 L45.3 879.42 L45.8 878.35 L46.3 877.21 L46.8 876.00 L47.3 874.73 L47.8 873.39 L48.3 872.00 L48.8 870.56 L49.3 869.08 L49.8 867.56 L50.3 866.01 L50.8 864.45 L51.3 862.88 L51.8 861.32 L52.3 859.78 L52.8 858.27 L53.3 856.81 L53.8 855.40 L54.3 854.07 L54.8 852.82 L55.3 851.68 L55.8 850.64 L56.3 849.73 L56.8 848.94 L57.3 848.30 L57.8 847.80 L58.3 847.46 L58.8 847.28 L59.3 847.26 L59.8 847.55 L60.3 848.23 L60.8 849.26 L61.3 850.63 L61.8 852.31 L62.3 854.24 L62.8 856.38 L63.3 858.69 L63.8 861.12 L64.3 863.61 L64.8 866.12 L65.3 868.60 L65.8 871.02 L66.3 873.33 L66.8 875.53 L67.3 877.57 L67.8 879.45 L68.3 881.16 L68.8 882.70 L69.3 884.07 L69.8 885.27 L70.3 886.31 L70.8 887.20 L71.3 887.96 L71.8 888.60 L72.3 889.13 L72.8 889.57 L73.3 889.92 L73.8 890.21 L74.3 890.44 L74.8 890.62 L75.3 890.76 L75.8 890.87 L76.3 890.96 L76.8 891.02 L77.3 891.07 L77.8 891.11 L78.3 891.13 L78.8 891.15 L79.3 891.17 L79.8 891.18 L80.3 891.18 L80.8 891.19 L81.3 891.19 L81.8 891.19 L82.3 891.20 L82.8 891.20 L83.3 891.20 L83.8 891.20 L84.3 891.20 L84.8 891.20 L85.3 891.20 L85.8 891.20 L86.3 891.20 L86.8 891.20 L87.3 891.20 L87.8 891.20 L88.3 891.20 L88.8 891.20 L89.3 891.20 L89.8 891.20 L90.3 891.20 L90.8 891.20 L91.3 891.20 L91.8 891.20 L92.3 891.20 L92.8 891.20 L93.3 891.20 L93.8 891.20 L94.3 891.20 L94.8 891.20 L95.3 891.20 L95.8 891.20 L96.3 891.20 L96.8 891.20 L97.3 891.20 L97.8 891.20 L98.3 891.20 L98.8 891.20 L99.3 891.20 L99.8 891.20 L100.3 891.20 L100.8 891.20 L101.3 891.20 L101.8 891.20 L102.3 891.20 L102.8 891.20 L103.3 891.20 L103.8 891.20 L104.3 891.20 L104.8 891.20 L105.3 891.20 L105.8 891.20 L106.3 891.20 L106.8 891.20 L107.3 891.20 L107.8 891.20 L108.3 891.20 L108.8 891.20 L109.3 891.20 L109.8 891.20 L110.3 891.20 L110.8 891.20 L111.3 891.20 L111.8 891.20 L112.3 891.20 L112.8 891.20 L113.3 891.20 L113.8 891.20 L114.3 891.20 L114.8 891.20 L115.3 891.20 L115.8 891.20 L116.3 891.20 L116.8 891.20 L117.3 891.20 L117.8 891.20 L118.3 891.20 L118.8 891.20 L119.3 891.20 L119.8 891.20 L120.3 891.20 L120.8 891.20 L121.3 891.20 L121.8 891.20 L122.3 891.20 L122.8 891.20 L123.3 891.20 L123.8 891.20 L124.3 891.20 L124.8 891.20 L125.3 891.20 L125.8 891.20 L126.3 891.20 L126.8 891.20 L127.3 891.20 L127.8 891.20 L128.3 891.20 L128.8 891.20 L129.3 891.20 L129.8 891.20 L130.3 891.20 L130.8 891.20 L131.3 891.20 L131.8 891.20 L132.3 891.20 L132.8 891.20 L133.3 891.20 L133.8 891.20 L134.3 891.20 L134.8 891.20 L135.3 891.20 L135.8 891.20 L136.3 891.20 L136.8 891.20 L136.8 891.2Z" stroke="#a8a8a8" stroke-width="0.01" fill="#a8a8a8" stroke-linejoin="round"/>
<path d="M31.3 891.20 L31.8 891.20 L32.3 891.20 L32.8 891.20 L33.3 891.20 L33.8 891.20 L34.3 891.20 L34.8 891.20 L35.3 891.20 L35.8 891.20 L36.3 891.20 L36.8 891.20 L37.3 891.20 L37.8 891.20 L38.3 891.20 L38.8 891.20 L39.3 891.20 L39.8 891.20 L40.3 891.20 L40.8 891.20 L41.3 891.20 L41.8 891.20 L42.3 891.20 L42.8 891.20 L43.3 891.20 L43.8 891.19 L44.3 891.19 L44.8 891.19 L45.3 891.18 L45.8 891.17 L46.3 891.17 L46.8 891.15 L47.3 891.14 L47.8 891.11 L48.3 891.08 L48.8 891.05 L49.3 891.00 L49.8 890.93 L50.3 890.85 L50.8 890.75 L51.3 890.62 L51.8 890.46 L52.3 890.26 L52.8 890.02 L53.3 889.73 L53.8 889.37 L54.3 888.95 L54.8 888.44 L55.3 887.85 L55.8 887.15 L56.3 886.35 L56.8 885.43 L57.3 884.38 L57.8 883.19 L58.3 881.86 L58.8 880.39 L59.3 878.77 L59.8 877.00 L60.3 875.10 L60.8 873.07 L61.3 870.92 L61.8 868.68 L62.3 866.37 L62.8 864.00 L63.3 861.62 L63.8 859.25 L64.3 856.93 L64.8 854.69 L65.3 852.58 L65.8 850.63 L66.3 848.87 L66.8 847.34 L67.3 846.08 L67.8 845.09 L68.3 844.42 L68.8 844.06 L69.3 844.04 L69.8 844.46 L70.3 845.34 L70.8 846.65 L71.3 848.35 L71.8 850.40 L72.3 852.74 L72.8 855.30 L73.3 858.02 L73.8 860.85 L74.3 863.70 L74.8 866.54 L75.3 869.30 L75.8 871.94 L76.3 874.43 L76.8 876.74 L77.3 878.85 L77.8 880.75 L78.3 882.44 L78.8 883.92 L79.3 885.20 L79.8 886.29 L80.3 887.21 L80.8 887.97 L81.3 888.59 L81.8 889.09 L82.3 889.48 L82.8 889.79 L83.3 890.01 L83.8 890.18 L84.3 890.30 L84.8 890.37 L85.3 890.42 L85.8 890.44 L86.3 890.44 L86.8 890.42 L87.3 890.40 L87.8 890.37 L88.3 890.34 L88.8 890.31 L89.3 890.28 L89.8 890.26 L90.3 890.23 L90.8 890.22 L91.3 890.20 L91.8 890.20 L92.3 890.20 L92.8 890.21 L93.3 890.22 L93.8 890.24 L94.3 890.27 L94.8 890.30 L95.3 890.34 L95.8 890.38 L96.3 890.43 L96.8 890.47 L97.3 890.52 L97.8 890.57 L98.3 890.62 L98.8 890.67 L99.3 890.72 L99.8 890.77 L100.3 890.82 L100.8 890.86 L101.3 890.90 L101.8 890.94 L102.3 890.97 L102.8 891.00 L103.3 891.03 L103.8 891.06 L104.3 891.08 L104.8 891.10 L105.3 891.11 L105.8 891.13 L106.3 891.14 L106.8 891.15 L107.3 891.16 L107.8 891.17 L108.3 891.18 L108.8 891.18 L109.3 891.18 L109.8 891.19 L110.3 891.19 L110.8 891.19 L111.3 891.19 L111.8 891.20 L112.3 891.20 L112.8 891.20 L113.3 891.20 L113.8 891.20 L114.3 891.20 L114.8 891.20 L115.3 891.20 L115.8 891.20 L116.3 891.20 L116.8 891.20 L117.3 891.20 L117.8 891.20 L118.3 891.20 L118.8 891.20 L119.3 891.20 L119.8 891.20 L120.3 891.20 L120.8 891.20 L121.3 891.20 L121.8 891.20 L122.3 891.20 L122.8 891.20 L123.3 891.20 L123.8 891.20 L124.3 891.20 L124.8 891.20 L125.3 891.20 L125.8 891.20 L126.3 891.20 L126.8 891.20 L127.3 891.20 L127.8 891.20 L128.3 891.20 L128.8 891.20 L129.3 891.20 L129.8 891.20 L130.3 891.20 L130.8 891.20 L131.3 891.20 L131.8 891.20 L132.3 891.20 L132.8 891.20 L133.3 891.20 L133.8 891.20 L134.3 891.20 L134.8 891.20 L135.3 891.20 L135.8 891.20 L136.3 891.20 L136.8 891.20" stroke="#000" stroke-width="1.3" fill="none" stroke-linejoin="round"/>
<path d="M148.8 891.2 L148.8 891.20 L149.3 891.20 L149.8 891.20 L150.3 891.20 L150.8 891.20 L151.3 891.20 L151.8 891.20 L152.3 891.20 L152.8 891.20 L153.3 891.20 L153.8 891.20 L154.3 891.20 L154.8 891.20 L155.3 891.20 L155.8 891.20 L156.3 891.20 L156.8 891.20 L157.3 891.20 L157.8 891.20 L158.3 891.20 L158.8 891.19 L159.3 891.19 L159.8 891.18 L160.3 891.17 L160.8 891.16 L161.3 891.14 L161.8 891.11 L162.3 891.07 L162.8 891.02 L163.3 890.94 L163.8 890.83 L164.3 890.68 L164.8 890.49 L165.3 890.22 L165.8 889.88 L166.3 889.44 L166.8 888.87 L167.3 888.16 L167.8 887.28 L168.3 886.21 L168.8 884.92 L169.3 883.38 L169.8 881.59 L170.3 879.52 L170.8 877.17 L171.3 874.55 L171.8 871.67 L172.3 868.56 L172.8 865.27 L173.3 861.84 L173.8 858.36 L174.3 854.89 L174.8 851.52 L175.3 848.35 L175.8 845.48 L176.3 842.98 L176.8 840.94 L177.3 839.44 L177.8 838.51 L178.3 838.20 L178.8 838.51 L179.3 839.44 L179.8 840.94 L180.3 842.98 L180.8 845.48 L181.3 848.35 L181.8 851.52 L182.3 854.89 L182.8 858.36 L183.3 861.84 L183.8 865.27 L184.3 868.56 L184.8 871.67 L185.3 874.55 L185.8 877.17 L186.3 879.52 L186.8 881.59 L187.3 883.38 L187.8 884.92 L188.3 886.21 L188.8 887.28 L189.3 888.16 L189.8 888.87 L190.3 889.44 L190.8 889.88 L191.3 890.22 L191.8 890.49 L192.3 890.68 L192.8 890.83 L193.3 890.94 L193.8 891.02 L194.3 891.07 L194.8 891.11 L195.3 891.14 L195.8 891.16 L196.3 891.17 L196.8 891.18 L197.3 891.19 L197.8 891.19 L198.3 891.20 L198.8 891.20 L199.3 891.20 L199.8 891.20 L200.3 891.20 L200.8 891.20 L201.3 891.20 L201.8 891.20 L202.3 891.20 L202.8 891.20 L203.3 891.20 L203.8 891.20 L204.3 891.20 L204.8 891.20 L205.3 891.20 L205.8 891.20 L206.3 891.20 L206.8 891.20 L207.3 891.20 L207.8 891.20 L208.3 891.20 L208.8 891.20 L209.3 891.20 L209.8 891.20 L210.3 891.20 L210.8 891.20 L211.3 891.20 L211.8 891.20 L212.3 891.20 L212.8 891.20 L213.3 891.20 L213.8 891.20 L214.3 891.20 L214.8 891.20 L215.3 891.20 L215.8 891.20 L216.3 891.20 L216.8 891.20 L217.3 891.20 L217.8 891.20 L218.3 891.20 L218.8 891.20 L219.3 891.20 L219.8 891.20 L220.3 891.20 L220.8 891.20 L221.3 891.20 L221.8 891.20 L222.3 891.20 L222.8 891.20 L223.3 891.20 L223.8 891.20 L224.3 891.20 L224.8 891.20 L225.3 891.20 L225.8 891.20 L226.3 891.20 L226.8 891.20 L227.3 891.20 L227.8 891.20 L228.3 891.20 L228.8 891.20 L229.3 891.20 L229.8 891.20 L230.3 891.20 L230.8 891.20 L231.3 891.20 L231.8 891.20 L232.3 891.20 L232.8 891.20 L233.3 891.20 L233.8 891.20 L234.3 891.20 L234.8 891.20 L235.3 891.20 L235.8 891.20 L236.3 891.20 L236.8 891.20 L237.3 891.20 L237.8 891.20 L238.3 891.20 L238.8 891.20 L239.3 891.20 L239.8 891.20 L240.3 891.20 L240.8 891.20 L241.3 891.20 L241.8 891.20 L242.3 891.20 L242.8 891.20 L243.3 891.20 L243.8 891.20 L244.3 891.20 L244.8 891.20 L245.3 891.20 L245.8 891.20 L246.3 891.20 L246.8 891.20 L247.3 891.20 L247.8 891.20 L248.3 891.20 L248.8 891.20 L249.3 891.20 L249.8 891.20 L250.3 891.20 L250.8 891.20 L251.3 891.20 L251.8 891.20 L252.3 891.20 L252.8 891.20 L253.3 891.20 L253.8 891.20 L254.3 891.20 L254.8 891.20 L255.3 891.20 L255.8 891.20 L256.3 891.20 L256.3 891.2Z" stroke="#a8a8a8" stroke-width="0.01" fill="#a8a8a8" stroke-linejoin="round"/>
<path d="M148.8 891.20 L149.3 891.20 L149.8 891.20 L150.3 891.20 L150.8 891.20 L151.3 891.20 L151.8 891.20 L152.3 891.20 L152.8 891.20 L153.3 891.20 L153.8 891.20 L154.3 891.20 L154.8 891.20 L155.3 891.20 L155.8 891.20 L156.3 891.20 L156.8 891.20 L157.3 891.20 L157.8 891.20 L158.3 891.20 L158.8 891.19 L159.3 891.19 L159.8 891.18 L160.3 891.17 L160.8 891.16 L161.3 891.14 L161.8 891.11 L162.3 891.07 L162.8 891.02 L163.3 890.94 L163.8 890.83 L164.3 890.68 L164.8 890.49 L165.3 890.22 L165.8 889.88 L166.3 889.44 L166.8 888.87 L167.3 888.16 L167.8 887.28 L168.3 886.21 L168.8 884.92 L169.3 883.38 L169.8 881.59 L170.3 879.52 L170.8 877.17 L171.3 874.55 L171.8 871.67 L172.3 868.56 L172.8 865.26 L173.3 861.84 L173.8 858.35 L174.3 854.88 L174.8 851.52 L175.3 848.35 L175.8 845.47 L176.3 842.97 L176.8 840.93 L177.3 839.42 L177.8 838.50 L178.3 838.18 L178.8 838.49 L179.3 839.41 L179.8 840.91 L180.3 842.94 L180.8 845.43 L181.3 848.30 L181.8 851.46 L182.3 854.82 L182.8 858.28 L183.3 861.75 L183.8 865.16 L184.3 868.45 L184.8 871.54 L185.3 874.40 L185.8 877.01 L186.3 879.33 L186.8 881.38 L187.3 883.16 L187.8 884.67 L188.3 885.94 L188.8 886.98 L189.3 887.84 L189.8 888.52 L190.3 889.05 L190.8 889.47 L191.3 889.78 L191.8 890.01 L192.3 890.18 L192.8 890.30 L193.3 890.38 L193.8 890.43 L194.3 890.45 L194.8 890.47 L195.3 890.47 L195.8 890.46 L196.3 890.46 L196.8 890.45 L197.3 890.43 L197.8 890.42 L198.3 890.41 L198.8 890.41 L199.3 890.40 L199.8 890.40 L200.3 890.40 L200.8 890.40 L201.3 890.41 L201.8 890.42 L202.3 890.43 L202.8 890.45 L203.3 890.47 L203.8 890.49 L204.3 890.51 L204.8 890.53 L205.3 890.56 L205.8 890.58 L206.3 890.61 L206.8 890.64 L207.3 890.67 L207.8 890.70 L208.3 890.73 L208.8 890.76 L209.3 890.79 L209.8 890.82 L210.3 890.85 L210.8 890.88 L211.3 890.90 L211.8 890.93 L212.3 890.95 L212.8 890.98 L213.3 891.00 L213.8 891.02 L214.3 891.04 L214.8 891.06 L215.3 891.07 L215.8 891.09 L216.3 891.10 L216.8 891.11 L217.3 891.12 L217.8 891.13 L218.3 891.14 L218.8 891.15 L219.3 891.16 L219.8 891.16 L220.3 891.17 L220.8 891.17 L221.3 891.18 L221.8 891.18 L222.3 891.18 L222.8 891.19 L223.3 891.19 L223.8 891.19 L224.3 891.19 L224.8 891.19 L225.3 891.19 L225.8 891.20 L226.3 891.20 L226.8 891.20 L227.3 891.20 L227.8 891.20 L228.3 891.20 L228.8 891.20 L229.3 891.20 L229.8 891.20 L230.3 891.20 L230.8 891.20 L231.3 891.20 L231.8 891.20 L232.3 891.20 L232.8 891.20 L233.3 891.20 L233.8 891.20 L234.3 891.20 L234.8 891.20 L235.3 891.20 L235.8 891.20 L236.3 891.20 L236.8 891.20 L237.3 891.20 L237.8 891.20 L238.3 891.20 L238.8 891.20 L239.3 891.20 L239.8 891.20 L240.3 891.20 L240.8 891.20 L241.3 891.20 L241.8 891.20 L242.3 891.20 L242.8 891.20 L243.3 891.20 L243.8 891.20 L244.3 891.20 L244.8 891.20 L245.3 891.20 L245.8 891.20 L246.3 891.20 L246.8 891.20 L247.3 891.20 L247.8 891.20 L248.3 891.20 L248.8 891.20 L249.3 891.20 L249.8 891.20 L250.3 891.20 L250.8 891.20 L251.3 891.20 L251.8 891.20 L252.3 891.20 L252.8 891.20 L253.3 891.20 L253.8 891.20 L254.3 891.20 L254.8 891.20 L255.3 891.20 L255.8 891.20 L256.3 891.20" stroke="#000" stroke-width="1.3" fill="none" stroke-linejoin="round"/>
<text x="28" y="908.8" fill="#111" stroke="#111">ROR<tspan class="g">γ</tspan>t</text>
<line x1="73.9" y1="904.3" x2="105.5" y2="904.3" stroke="#111" stroke-width="1.2"/>
<path d="M103.0 900.8L112.5 904.3L103.0 907.8Z" fill="#111"/>
<text x="147" y="910" fill="#111" stroke="#111">CD138</text>
<line x1="194.4" y1="904.5" x2="227.5" y2="904.5" stroke="#111" stroke-width="1.2"/>
<path d="M225.0 901.0L234.5 904.5L225.0 908.0Z" fill="#111"/>
<text x="307.5" y="763" fill="#111" stroke="#111">ROR<tspan class="g">γ</tspan>t expression</text>
<text x="318.0" y="791.5" text-anchor="end" fill="#111" stroke="#111">20</text>
<text x="318.0" y="823.6" text-anchor="end" fill="#111" stroke="#111">15</text>
<text x="318.0" y="855.6" text-anchor="end" fill="#111" stroke="#111">10</text>
<text x="318.0" y="887.7" text-anchor="end" fill="#111" stroke="#111">5</text>
<text x="318.0" y="919.8" text-anchor="end" fill="#111" stroke="#111">0</text>
<path d="M325.5 786.75V915H420M325.5 786.75h-4.5M325.5 818.8h-4.5M325.5 850.8h-4.5M325.5 882.9h-4.5M325.5 915h-4.5" stroke="#1a1a1a" stroke-width="1.3" fill="none"/>
<text x="292.3" y="851" text-anchor="middle" fill="#111" stroke="#111" transform="rotate(-90 292.3 851)">ROR<tspan class="g">γ</tspan>t (MFI)</text>
<line x1="355" y1="807" x2="391.2" y2="807" stroke="#555" stroke-width="1.5"/>
<text x="373.9" y="806.1" text-anchor="middle" font-weight="bold" font-size="14" letter-spacing="1.2" fill="#111" stroke="#111">***</text>
<text x="373" y="932" text-anchor="middle" fill="#1212cc" stroke="#1212cc">NKT1</text>
<g fill="#1212cc"><circle cx="341.8" cy="858.7" r="2.8"/><circle cx="349" cy="858.7" r="2.8"/><circle cx="356.3" cy="861.5" r="2.8"/><circle cx="363.7" cy="858.1" r="2.8"/><circle cx="345.2" cy="876.1" r="2.8"/><circle cx="352.5" cy="875.4" r="2.8"/><circle cx="360" cy="878" r="2.8"/><circle cx="349" cy="884.4" r="2.8"/><circle cx="356.3" cy="884.4" r="2.8"/></g>
<line x1="352.8" y1="867" x2="352.8" y2="874" stroke="#222" stroke-width="1.2"/>
<line x1="346.35" y1="867" x2="359.25" y2="867" stroke="#222" stroke-width="1.2"/>
<line x1="346.35" y1="874" x2="359.25" y2="874" stroke="#222" stroke-width="1.2"/>
<line x1="339.6" y1="870.5" x2="366" y2="870.5" stroke="#000" stroke-width="2.6"/>
<g fill="none" stroke="#4a4ac4" stroke-width="0.95"><circle cx="381.4" cy="828.5" r="2.55"/><circle cx="386.6" cy="827.9" r="2.55"/><circle cx="390.4" cy="827.2" r="2.55"/><circle cx="394.9" cy="827.9" r="2.55"/><circle cx="398.8" cy="825.3" r="2.55"/><circle cx="402" cy="825.9" r="2.55"/><circle cx="404.6" cy="828.5" r="2.55"/><circle cx="384.6" cy="834.3" r="2.55"/><circle cx="388.5" cy="835.3" r="2.55"/><circle cx="393" cy="835.6" r="2.55"/><circle cx="396.8" cy="834.3" r="2.55"/><circle cx="401.3" cy="833" r="2.55"/><circle cx="398.1" cy="839.4" r="2.55"/><circle cx="392" cy="830.5" r="2.55"/><circle cx="400" cy="830" r="2.55"/></g>
<line x1="392.5" y1="829.8" x2="392.5" y2="833.2" stroke="#222" stroke-width="1.2"/>
<line x1="388.5" y1="829.8" x2="396.5" y2="829.8" stroke="#222" stroke-width="1.2"/>
<line x1="388.5" y1="833.2" x2="396.5" y2="833.2" stroke="#222" stroke-width="1.2"/>
<line x1="378.8" y1="831.5" x2="405.8" y2="831.5" stroke="#000" stroke-width="2.6"/>
<text x="467" y="762.5" fill="#111" stroke="#111">CD138 expression</text>
<text x="480.0" y="791.0" text-anchor="end" fill="#111" stroke="#111">20</text>
<text x="480.0" y="823.1" text-anchor="end" fill="#111" stroke="#111">15</text>
<text x="480.0" y="855.2" text-anchor="end" fill="#111" stroke="#111">10</text>
<text x="480.0" y="887.3" text-anchor="end" fill="#111" stroke="#111">5</text>
<text x="480.0" y="919.3" text-anchor="end" fill="#111" stroke="#111">0</text>
<path d="M487.5 786.25V914.5H581.25M487.5 786.25h-4.5M487.5 818.3h-4.5M487.5 850.4h-4.5M487.5 882.5h-4.5M487.5 914.5h-4.5" stroke="#1a1a1a" stroke-width="1.3" fill="none"/>
<text x="451.8" y="850.5" text-anchor="middle" fill="#111" stroke="#111" transform="rotate(-90 451.8 850.5)">CD138 (MFI)</text>
<line x1="516.2" y1="807" x2="551.7" y2="807" stroke="#555" stroke-width="1.5"/>
<text x="533.9" y="801.3" text-anchor="middle" fill="#111" stroke="#111">NS</text>
<text x="532.6" y="932" text-anchor="middle" fill="#1212cc" stroke="#1212cc">NKT1</text>
<g fill="#1212cc"><circle cx="503" cy="831.2" r="2.8"/><circle cx="503" cy="837.1" r="2.8"/><circle cx="503" cy="843.4" r="2.8"/><circle cx="503" cy="847.4" r="2.8"/><circle cx="510.4" cy="834.3" r="2.8"/><circle cx="517.9" cy="838.3" r="2.8"/><circle cx="517.9" cy="846.3" r="2.8"/><circle cx="525.3" cy="836.6" r="2.8"/><circle cx="525.3" cy="844" r="2.8"/><circle cx="510.4" cy="840.5" r="2.8"/></g>
<line x1="514.5" y1="838.5" x2="514.5" y2="842" stroke="#222" stroke-width="1.2"/>
<line x1="510.5" y1="838.5" x2="518.5" y2="838.5" stroke="#222" stroke-width="1.2"/>
<line x1="510.5" y1="842" x2="518.5" y2="842" stroke="#222" stroke-width="1.2"/>
<line x1="501.9" y1="840.2" x2="527" y2="840.2" stroke="#000" stroke-width="2.6"/>
<g fill="none" stroke="#4a4ac4" stroke-width="0.95"><circle cx="543" cy="834" r="2.55"/><circle cx="547" cy="833.5" r="2.55"/><circle cx="551" cy="834" r="2.55"/><circle cx="554.4" cy="832.3" r="2.55"/><circle cx="557.9" cy="834.8" r="2.55"/><circle cx="562.4" cy="838.3" r="2.55"/><circle cx="564.7" cy="842.9" r="2.55"/><circle cx="545.5" cy="843.4" r="2.55"/><circle cx="549.5" cy="843.4" r="2.55"/><circle cx="553.4" cy="843" r="2.55"/><circle cx="557.4" cy="843.4" r="2.55"/><circle cx="545.5" cy="847.4" r="2.55"/><circle cx="552.8" cy="847.4" r="2.55"/><circle cx="560.2" cy="848" r="2.55"/></g>
<line x1="554" y1="839" x2="554" y2="842.6" stroke="#222" stroke-width="1.2"/>
<line x1="550.0" y1="839" x2="558.0" y2="839" stroke="#222" stroke-width="1.2"/>
<line x1="550.0" y1="842.6" x2="558.0" y2="842.6" stroke="#222" stroke-width="1.2"/>
<line x1="540.7" y1="840.8" x2="567.2" y2="840.8" stroke="#000" stroke-width="2.6"/>
<g fill="#1212cc"><circle cx="581.5" cy="793" r="2.7"/></g>
<text x="588.6" y="798" fill="#111" stroke="#111">Littermate BALB/c</text>
<g fill="none" stroke="#4a4ac4" stroke-width="0.95"><circle cx="581.5" cy="812" r="2.45"/></g>
<text x="588.6" y="816.6" fill="#111" stroke="#111">ROR<tspan class="g">γ</tspan>t<tspan dy="-4.6" font-size="10.3">Tg</tspan><tspan dy="4.6"> BALB/c</tspan></text>
</svg>
</body></html>
